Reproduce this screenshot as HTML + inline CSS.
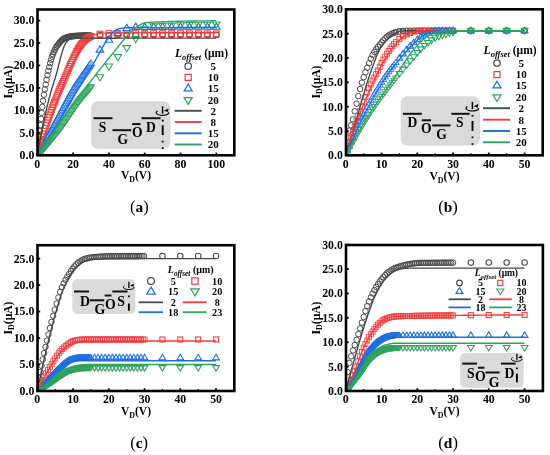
<!DOCTYPE html>
<html lang="en">
<head>
<meta charset="utf-8">
<title>Figure</title>
<style>
html,body{margin:0;padding:0;background:#fff;}
body{width:550px;height:455px;overflow:hidden;}
svg{display:block;font-family:"Liberation Serif", "DejaVu Serif", serif;}
svg text{fill:#000;}
</style>
</head>
<body>
<svg width="550" height="455" viewBox="0 0 550 455">
<rect width="550" height="455" fill="#fff"/>
<text transform="translate(11.6 82) rotate(-90)" font-size="11.6" text-anchor="middle" font-weight="bold">I<tspan font-size="7.89" dy="2.2">D</tspan><tspan dy="-2.2">(μA)</tspan></text>
<text x="136" y="179.3" font-size="11.6" text-anchor="middle" font-weight="bold">V<tspan font-size="7.89" dy="2.2">D</tspan><tspan dy="-2.2">(V)</tspan></text>
<clipPath id="clip_pa"><rect x="37.5" y="9.5" width="196.8" height="145.8"/></clipPath>
<g clip-path="url(#clip_pa)">
<g fill="none" stroke="#4a4a4a" stroke-width="1">
<circle cx="37.3" cy="155.2" r="2.76"/>
<circle cx="37.91" cy="149.15" r="2.76"/>
<circle cx="38.52" cy="143.18" r="2.76"/>
<circle cx="39.14" cy="137.1" r="2.76"/>
<circle cx="39.77" cy="131.11" r="2.76"/>
<circle cx="40.41" cy="124.99" r="2.76"/>
<circle cx="41.04" cy="118.88" r="2.76"/>
<circle cx="41.67" cy="112.78" r="2.76"/>
<circle cx="42.31" cy="106.8" r="2.76"/>
<circle cx="43.05" cy="100.74" r="2.76"/>
<circle cx="43.92" cy="94.74" r="2.76"/>
<circle cx="44.82" cy="89.39" r="2.76"/>
<circle cx="45.71" cy="84.5" r="2.76"/>
<circle cx="46.61" cy="79.77" r="2.76"/>
<circle cx="47.5" cy="75.18" r="2.76"/>
<circle cx="48.4" cy="70.87" r="2.76"/>
<circle cx="49.29" cy="66.95" r="2.76"/>
<circle cx="50.19" cy="63.22" r="2.76"/>
<circle cx="51.08" cy="59.72" r="2.76"/>
<circle cx="51.98" cy="56.67" r="2.76"/>
<circle cx="52.87" cy="54.23" r="2.76"/>
<circle cx="53.77" cy="52.1" r="2.76"/>
<circle cx="54.66" cy="50.18" r="2.76"/>
<circle cx="55.56" cy="48.45" r="2.76"/>
<circle cx="56.45" cy="46.91" r="2.76"/>
<circle cx="57.35" cy="45.55" r="2.76"/>
<circle cx="58.24" cy="44.36" r="2.76"/>
<circle cx="59.14" cy="43.22" r="2.76"/>
<circle cx="60.03" cy="42.13" r="2.76"/>
<circle cx="60.93" cy="41.12" r="2.76"/>
<circle cx="61.82" cy="40.2" r="2.76"/>
<circle cx="62.72" cy="39.4" r="2.76"/>
<circle cx="63.61" cy="38.74" r="2.76"/>
<circle cx="64.51" cy="38.24" r="2.76"/>
<circle cx="65.4" cy="37.89" r="2.76"/>
<circle cx="66.3" cy="37.58" r="2.76"/>
<circle cx="67.19" cy="37.29" r="2.76"/>
<circle cx="68.09" cy="37.04" r="2.76"/>
<circle cx="68.98" cy="36.81" r="2.76"/>
<circle cx="69.88" cy="36.6" r="2.76"/>
<circle cx="70.77" cy="36.43" r="2.76"/>
<circle cx="71.67" cy="36.28" r="2.76"/>
<circle cx="72.56" cy="36.17" r="2.76"/>
<circle cx="73.46" cy="36.08" r="2.76"/>
<circle cx="74.35" cy="36.02" r="2.76"/>
<circle cx="75.25" cy="35.96" r="2.76"/>
<circle cx="76.14" cy="35.9" r="2.76"/>
<circle cx="77.04" cy="35.85" r="2.76"/>
<circle cx="77.93" cy="35.8" r="2.76"/>
<circle cx="78.83" cy="35.75" r="2.76"/>
<circle cx="79.72" cy="35.71" r="2.76"/>
<circle cx="80.62" cy="35.67" r="2.76"/>
<circle cx="81.51" cy="35.63" r="2.76"/>
<circle cx="82.41" cy="35.59" r="2.76"/>
<circle cx="83.3" cy="35.56" r="2.76"/>
<circle cx="84.2" cy="35.53" r="2.76"/>
<circle cx="85.09" cy="35.5" r="2.76"/>
<circle cx="85.99" cy="35.48" r="2.76"/>
<circle cx="86.88" cy="35.46" r="2.76"/>
<circle cx="87.78" cy="35.44" r="2.76"/>
<circle cx="88.67" cy="35.43" r="2.76"/>
<circle cx="89.57" cy="35.41" r="2.76"/>
<circle cx="90.46" cy="35.4" r="2.76"/>
</g>
<g fill="none" stroke="#4a4a4a" stroke-width="1.1">
<circle cx="99.95" cy="35.33" r="2.76"/>
<circle cx="108.9" cy="35.26" r="2.76"/>
<circle cx="117.85" cy="35.21" r="2.76"/>
<circle cx="126.8" cy="35.16" r="2.76"/>
<circle cx="135.75" cy="35.11" r="2.76"/>
<circle cx="144.7" cy="35.08" r="2.76"/>
<circle cx="153.65" cy="35.04" r="2.76"/>
<circle cx="162.6" cy="35.02" r="2.76"/>
<circle cx="171.55" cy="34.99" r="2.76"/>
<circle cx="180.5" cy="34.98" r="2.76"/>
<circle cx="189.45" cy="34.96" r="2.76"/>
<circle cx="198.4" cy="34.96" r="2.76"/>
<circle cx="207.35" cy="34.95" r="2.76"/>
<circle cx="216.3" cy="34.95" r="2.76"/>
</g>
<g fill="none" stroke="#ef3d3d" stroke-width="0.85">
<rect x="34.44" y="152.34" width="5.71" height="5.71"/>
<rect x="35.34" y="149.17" width="5.71" height="5.71"/>
<rect x="36.23" y="146.03" width="5.71" height="5.71"/>
<rect x="37.13" y="142.95" width="5.71" height="5.71"/>
<rect x="38.02" y="139.91" width="5.71" height="5.71"/>
<rect x="38.92" y="136.92" width="5.71" height="5.71"/>
<rect x="39.81" y="133.97" width="5.71" height="5.71"/>
<rect x="40.71" y="131.07" width="5.71" height="5.71"/>
<rect x="41.6" y="128.21" width="5.71" height="5.71"/>
<rect x="42.5" y="125.39" width="5.71" height="5.71"/>
<rect x="43.39" y="122.62" width="5.71" height="5.71"/>
<rect x="44.29" y="119.89" width="5.71" height="5.71"/>
<rect x="45.18" y="117.21" width="5.71" height="5.71"/>
<rect x="46.08" y="114.57" width="5.71" height="5.71"/>
<rect x="46.97" y="111.96" width="5.71" height="5.71"/>
<rect x="47.87" y="109.4" width="5.71" height="5.71"/>
<rect x="48.76" y="106.88" width="5.71" height="5.71"/>
<rect x="49.66" y="104.41" width="5.71" height="5.71"/>
<rect x="50.55" y="101.97" width="5.71" height="5.71"/>
<rect x="51.45" y="99.57" width="5.71" height="5.71"/>
<rect x="52.34" y="97.21" width="5.71" height="5.71"/>
<rect x="53.24" y="94.89" width="5.71" height="5.71"/>
<rect x="54.13" y="92.66" width="5.71" height="5.71"/>
<rect x="55.03" y="90.51" width="5.71" height="5.71"/>
<rect x="55.92" y="88.42" width="5.71" height="5.71"/>
<rect x="56.82" y="86.39" width="5.71" height="5.71"/>
<rect x="57.71" y="84.38" width="5.71" height="5.71"/>
<rect x="58.61" y="82.4" width="5.71" height="5.71"/>
<rect x="59.5" y="80.42" width="5.71" height="5.71"/>
<rect x="60.4" y="78.43" width="5.71" height="5.71"/>
<rect x="61.29" y="76.4" width="5.71" height="5.71"/>
<rect x="62.19" y="74.33" width="5.71" height="5.71"/>
<rect x="63.08" y="72.22" width="5.71" height="5.71"/>
<rect x="63.98" y="70.07" width="5.71" height="5.71"/>
<rect x="64.87" y="67.92" width="5.71" height="5.71"/>
<rect x="65.77" y="65.78" width="5.71" height="5.71"/>
<rect x="66.66" y="63.66" width="5.71" height="5.71"/>
<rect x="67.56" y="61.59" width="5.71" height="5.71"/>
<rect x="68.45" y="59.59" width="5.71" height="5.71"/>
<rect x="69.35" y="57.67" width="5.71" height="5.71"/>
<rect x="70.24" y="55.79" width="5.71" height="5.71"/>
<rect x="71.14" y="53.92" width="5.71" height="5.71"/>
<rect x="72.03" y="52.07" width="5.71" height="5.71"/>
<rect x="72.93" y="50.26" width="5.71" height="5.71"/>
<rect x="73.82" y="48.53" width="5.71" height="5.71"/>
<rect x="74.72" y="46.9" width="5.71" height="5.71"/>
<rect x="75.61" y="45.38" width="5.71" height="5.71"/>
<rect x="76.51" y="44.01" width="5.71" height="5.71"/>
<rect x="77.4" y="42.77" width="5.71" height="5.71"/>
<rect x="78.3" y="41.58" width="5.71" height="5.71"/>
<rect x="79.19" y="40.45" width="5.71" height="5.71"/>
<rect x="80.09" y="39.38" width="5.71" height="5.71"/>
<rect x="80.98" y="38.4" width="5.71" height="5.71"/>
<rect x="81.88" y="37.5" width="5.71" height="5.71"/>
<rect x="82.77" y="36.7" width="5.71" height="5.71"/>
<rect x="83.67" y="36" width="5.71" height="5.71"/>
<rect x="84.56" y="35.36" width="5.71" height="5.71"/>
<rect x="85.46" y="34.76" width="5.71" height="5.71"/>
<rect x="86.35" y="34.22" width="5.71" height="5.71"/>
<rect x="87.25" y="33.74" width="5.71" height="5.71"/>
<rect x="88.14" y="33.33" width="5.71" height="5.71"/>
</g>
<g fill="none" stroke="#ef3d3d" stroke-width="1.1">
<rect x="97.09" y="31.19" width="5.71" height="5.71"/>
<rect x="106.04" y="30.75" width="5.71" height="5.71"/>
<rect x="114.99" y="30.75" width="5.71" height="5.71"/>
<rect x="123.94" y="30.75" width="5.71" height="5.71"/>
<rect x="132.89" y="30.75" width="5.71" height="5.71"/>
<rect x="141.84" y="30.76" width="5.71" height="5.71"/>
<rect x="150.79" y="30.76" width="5.71" height="5.71"/>
<rect x="159.74" y="30.78" width="5.71" height="5.71"/>
<rect x="168.69" y="30.79" width="5.71" height="5.71"/>
<rect x="177.64" y="30.81" width="5.71" height="5.71"/>
<rect x="186.59" y="30.84" width="5.71" height="5.71"/>
<rect x="195.54" y="30.88" width="5.71" height="5.71"/>
<rect x="204.49" y="30.92" width="5.71" height="5.71"/>
<rect x="213.44" y="30.97" width="5.71" height="5.71"/>
</g>
<g fill="none" stroke="#1f6fe0" stroke-width="0.85">
<path d="M37.3 151.26L41.16 157.61L33.44 157.61Z"/>
<path d="M38.2 149.75L42.06 156.09L34.33 156.09Z"/>
<path d="M39.09 148.22L42.95 154.57L35.23 154.57Z"/>
<path d="M39.98 146.69L43.85 153.04L36.12 153.04Z"/>
<path d="M40.88 145.15L44.74 151.5L37.02 151.5Z"/>
<path d="M41.77 143.6L45.64 149.95L37.91 149.95Z"/>
<path d="M42.67 142.05L46.53 148.4L38.81 148.4Z"/>
<path d="M43.56 140.49L47.43 146.84L39.7 146.84Z"/>
<path d="M44.46 138.92L48.32 145.27L40.6 145.27Z"/>
<path d="M45.35 137.35L49.22 143.7L41.49 143.7Z"/>
<path d="M46.25 135.77L50.11 142.12L42.39 142.12Z"/>
<path d="M47.14 134.18L51.01 140.53L43.28 140.53Z"/>
<path d="M48.04 132.59L51.9 138.93L44.18 138.93Z"/>
<path d="M48.93 130.98L52.8 137.33L45.07 137.33Z"/>
<path d="M49.83 129.38L53.69 135.72L45.97 135.72Z"/>
<path d="M50.72 127.76L54.59 134.11L46.86 134.11Z"/>
<path d="M51.62 126.14L55.48 132.49L47.76 132.49Z"/>
<path d="M52.52 124.5L56.38 130.85L48.65 130.85Z"/>
<path d="M53.41 122.85L57.27 129.2L49.55 129.2Z"/>
<path d="M54.3 121.19L58.17 127.54L50.44 127.54Z"/>
<path d="M55.2 119.51L59.06 125.86L51.34 125.86Z"/>
<path d="M56.09 117.83L59.96 124.18L52.23 124.18Z"/>
<path d="M56.99 116.13L60.85 122.48L53.13 122.48Z"/>
<path d="M57.88 114.43L61.75 120.78L54.02 120.78Z"/>
<path d="M58.78 112.73L62.64 119.07L54.92 119.07Z"/>
<path d="M59.67 111.02L63.54 117.36L55.81 117.36Z"/>
<path d="M60.57 109.3L64.43 115.65L56.71 115.65Z"/>
<path d="M61.46 107.59L65.33 113.94L57.6 113.94Z"/>
<path d="M62.36 105.88L66.22 112.23L58.5 112.23Z"/>
<path d="M63.25 104.17L67.12 110.52L59.39 110.52Z"/>
<path d="M64.15 102.47L68.01 108.82L60.29 108.82Z"/>
<path d="M65.05 100.78L68.91 107.12L61.18 107.12Z"/>
<path d="M65.94 99.09L69.8 105.43L62.08 105.43Z"/>
<path d="M66.83 97.41L70.7 103.76L62.97 103.76Z"/>
<path d="M67.73 95.74L71.59 102.09L63.87 102.09Z"/>
<path d="M68.62 94.06L72.49 100.41L64.76 100.41Z"/>
<path d="M69.52 92.37L73.38 98.71L65.66 98.71Z"/>
<path d="M70.41 90.68L74.28 97.03L66.55 97.03Z"/>
<path d="M71.31 89.03L75.17 95.38L67.45 95.38Z"/>
<path d="M72.2 87.43L76.07 93.78L68.34 93.78Z"/>
<path d="M73.1 85.9L76.96 92.25L69.24 92.25Z"/>
<path d="M74 84.43L77.86 90.78L70.13 90.78Z"/>
<path d="M74.89 83.01L78.75 89.36L71.03 89.36Z"/>
<path d="M75.78 81.62L79.65 87.97L71.92 87.97Z"/>
<path d="M76.68 80.26L80.54 86.6L72.82 86.6Z"/>
<path d="M77.57 78.92L81.44 85.26L73.71 85.26Z"/>
<path d="M78.47 77.59L82.33 83.94L74.61 83.94Z"/>
<path d="M79.36 76.28L83.23 82.62L75.5 82.62Z"/>
<path d="M80.26 74.96L84.12 81.31L76.4 81.31Z"/>
<path d="M81.16 73.64L85.02 79.99L77.29 79.99Z"/>
<path d="M82.05 72.32L85.91 78.67L78.19 78.67Z"/>
<path d="M82.94 71.03L86.81 77.37L79.08 77.37Z"/>
<path d="M83.84 69.74L87.7 76.09L79.98 76.09Z"/>
<path d="M84.73 68.46L88.6 74.81L80.87 74.81Z"/>
<path d="M85.63 67.19L89.49 73.54L81.77 73.54Z"/>
<path d="M86.53 65.92L90.39 72.27L82.66 72.27Z"/>
<path d="M87.42 64.64L91.28 70.99L83.56 70.99Z"/>
<path d="M88.31 63.35L92.18 69.7L84.45 69.7Z"/>
<path d="M89.21 62.05L93.07 68.4L85.35 68.4Z"/>
<path d="M90.1 60.72L93.97 67.07L86.24 67.07Z"/>
<path d="M91 59.36L94.86 65.71L87.14 65.71Z"/>
</g>
<g fill="none" stroke="#1f6fe0" stroke-width="1.1">
<path d="M99.95 45.82L103.81 52.17L96.09 52.17Z"/>
<path d="M108.9 35.95L112.76 42.3L105.04 42.3Z"/>
<path d="M117.85 29.22L121.71 35.57L113.99 35.57Z"/>
<path d="M126.8 24.28L130.66 30.63L122.94 30.63Z"/>
<path d="M135.75 23.16L139.61 29.51L131.89 29.51Z"/>
<path d="M144.7 23.1L148.56 29.45L140.84 29.45Z"/>
<path d="M153.65 23.05L157.51 29.4L149.79 29.4Z"/>
<path d="M162.6 23.01L166.46 29.36L158.74 29.36Z"/>
<path d="M171.55 22.99L175.41 29.33L167.69 29.33Z"/>
<path d="M180.5 22.96L184.36 29.31L176.64 29.31Z"/>
<path d="M189.45 22.95L193.31 29.3L185.59 29.3Z"/>
<path d="M198.4 22.94L202.26 29.29L194.54 29.29Z"/>
<path d="M207.35 22.94L211.21 29.29L203.49 29.29Z"/>
<path d="M216.3 22.94L220.16 29.28L212.44 29.28Z"/>
</g>
<g fill="none" stroke="#2fa35f" stroke-width="0.85">
<path d="M37.3 159.02L41.05 152.86L33.55 152.86Z"/>
<path d="M38.2 158.11L41.95 151.94L34.44 151.94Z"/>
<path d="M39.09 157.18L42.84 151.01L35.34 151.01Z"/>
<path d="M39.98 156.24L43.74 150.08L36.23 150.08Z"/>
<path d="M40.88 155.29L44.63 149.12L37.13 149.12Z"/>
<path d="M41.77 154.33L45.53 148.16L38.02 148.16Z"/>
<path d="M42.67 153.35L46.42 147.19L38.92 147.19Z"/>
<path d="M43.56 152.37L47.32 146.21L39.81 146.21Z"/>
<path d="M44.46 151.38L48.21 145.21L40.71 145.21Z"/>
<path d="M45.35 150.37L49.11 144.21L41.6 144.21Z"/>
<path d="M46.25 149.36L50 143.19L42.5 143.19Z"/>
<path d="M47.14 148.33L50.9 142.17L43.39 142.17Z"/>
<path d="M48.04 147.3L51.79 141.13L44.29 141.13Z"/>
<path d="M48.93 146.25L52.69 140.09L45.18 140.09Z"/>
<path d="M49.83 145.19L53.58 139.03L46.08 139.03Z"/>
<path d="M50.72 144.13L54.48 137.97L46.97 137.97Z"/>
<path d="M51.62 143.06L55.37 136.89L47.87 136.89Z"/>
<path d="M52.52 141.97L56.27 135.81L48.76 135.81Z"/>
<path d="M53.41 140.88L57.16 134.72L49.66 134.72Z"/>
<path d="M54.3 139.78L58.06 133.62L50.55 133.62Z"/>
<path d="M55.2 138.67L58.95 132.51L51.45 132.51Z"/>
<path d="M56.09 137.55L59.85 131.39L52.34 131.39Z"/>
<path d="M56.99 136.43L60.74 130.26L53.24 130.26Z"/>
<path d="M57.88 135.29L61.64 129.13L54.13 129.13Z"/>
<path d="M58.78 134.15L62.53 127.98L55.03 127.98Z"/>
<path d="M59.67 133L63.43 126.83L55.92 126.83Z"/>
<path d="M60.57 131.82L64.32 125.66L56.82 125.66Z"/>
<path d="M61.46 130.62L65.22 124.45L57.71 124.45Z"/>
<path d="M62.36 129.38L66.11 123.22L58.61 123.22Z"/>
<path d="M63.25 128.12L67.01 121.95L59.5 121.95Z"/>
<path d="M64.15 126.83L67.9 120.67L60.4 120.67Z"/>
<path d="M65.05 125.52L68.8 119.36L61.29 119.36Z"/>
<path d="M65.94 124.2L69.69 118.03L62.19 118.03Z"/>
<path d="M66.83 122.86L70.59 116.7L63.08 116.7Z"/>
<path d="M67.73 121.51L71.48 115.35L63.98 115.35Z"/>
<path d="M68.62 120.15L72.38 113.99L64.87 113.99Z"/>
<path d="M69.52 118.79L73.27 112.63L65.77 112.63Z"/>
<path d="M70.41 117.43L74.17 111.27L66.66 111.27Z"/>
<path d="M71.31 116.08L75.06 109.91L67.56 109.91Z"/>
<path d="M72.2 114.72L75.96 108.56L68.45 108.56Z"/>
<path d="M73.1 113.38L76.85 107.22L69.35 107.22Z"/>
<path d="M74 112.05L77.75 105.89L70.24 105.89Z"/>
<path d="M74.89 110.74L78.64 104.57L71.14 104.57Z"/>
<path d="M75.78 109.44L79.54 103.28L72.03 103.28Z"/>
<path d="M76.68 108.17L80.43 102.01L72.93 102.01Z"/>
<path d="M77.57 106.93L81.33 100.76L73.82 100.76Z"/>
<path d="M78.47 105.71L82.22 99.54L74.72 99.54Z"/>
<path d="M79.36 104.52L83.12 98.36L75.61 98.36Z"/>
<path d="M80.26 103.38L84.01 97.21L76.51 97.21Z"/>
<path d="M81.16 102.27L84.91 96.11L77.4 96.11Z"/>
<path d="M82.05 101.2L85.8 95.03L78.3 95.03Z"/>
<path d="M82.94 100.15L86.7 93.99L79.19 93.99Z"/>
<path d="M83.84 99.12L87.59 92.96L80.09 92.96Z"/>
<path d="M84.73 98.1L88.49 91.93L80.98 91.93Z"/>
<path d="M85.63 97.08L89.38 90.92L81.88 90.92Z"/>
<path d="M86.53 96.05L90.28 89.89L82.77 89.89Z"/>
<path d="M87.42 95.01L91.17 88.85L83.67 88.85Z"/>
<path d="M88.31 93.95L92.07 87.78L84.56 87.78Z"/>
<path d="M89.21 92.84L92.96 86.68L85.46 86.68Z"/>
<path d="M90.1 91.7L93.86 85.53L86.35 85.53Z"/>
<path d="M91 90.59L94.75 84.43L87.25 84.43Z"/>
</g>
<g fill="none" stroke="#2fa35f" stroke-width="1.1">
<path d="M99.95 80.95L103.7 74.78L96.2 74.78Z"/>
<path d="M108.9 70.18L112.65 64.02L105.15 64.02Z"/>
<path d="M117.85 60.76L121.6 54.59L114.1 54.59Z"/>
<path d="M126.8 51.78L130.55 45.62L123.05 45.62Z"/>
<path d="M135.75 42.81L139.5 36.64L132 36.64Z"/>
<path d="M144.7 32.94L148.45 26.77L140.95 26.77Z"/>
<path d="M153.65 30.02L157.4 23.86L149.9 23.86Z"/>
<path d="M162.6 29.57L166.35 23.41L158.85 23.41Z"/>
<path d="M171.55 29.25L175.3 23.09L167.8 23.09Z"/>
<path d="M180.5 28.95L184.25 22.78L176.75 22.78Z"/>
<path d="M189.45 28.68L193.2 22.52L185.7 22.52Z"/>
<path d="M198.4 28.46L202.15 22.29L194.65 22.29Z"/>
<path d="M207.35 28.3L211.1 22.14L203.6 22.14Z"/>
<path d="M216.3 28.23L220.05 22.06L212.55 22.06Z"/>
</g>
<polyline fill="none" stroke="#4a4a4a" stroke-width="1.4" stroke-linejoin="round" points="37.3,155.2 38.2,150.19 39.09,145.29 39.98,140.5 40.88,135.83 41.77,131.28 42.67,126.84 43.56,122.51 44.46,118.31 45.35,114.23 46.25,110.26 47.14,106.42 48.04,102.71 48.93,99.11 49.83,95.71 50.72,92.51 51.62,89.48 52.52,86.56 53.41,83.69 54.3,80.83 55.2,77.92 56.09,74.91 56.99,71.74 57.88,68.31 58.78,64.67 59.67,61.02 60.57,57.59 61.46,54.57 62.36,51.66 63.25,48.85 64.15,46.3 65.05,44.22 65.94,42.79 66.83,41.67 67.73,40.71 68.62,39.93 69.52,39.4 70.41,39.12 71.31,38.92 72.2,38.75 73.1,38.6 74,38.48 74.89,38.39 75.78,38.34 76.68,38.31 77.57,38.31 78.47,38.31 79.36,38.3 80.26,38.3 81.16,38.29 82.05,38.29 82.94,38.29 83.84,38.28 84.73,38.28 85.63,38.28 86.53,38.27 87.42,38.27 88.31,38.27 89.21,38.26 90.1,38.26 91,38.26 91.89,38.25 92.79,38.25 93.69,38.25 94.58,38.24 95.47,38.24 96.37,38.24 97.27,38.23 98.16,38.23 99.06,38.23 99.95,38.22 100.84,38.22 101.74,38.22 102.64,38.22 103.53,38.21 104.42,38.21 105.32,38.21 106.22,38.2 107.11,38.2 108,38.2 108.9,38.2 109.8,38.19 110.69,38.19 111.58,38.19 112.48,38.19 113.38,38.19 114.27,38.18 115.16,38.18 116.06,38.18 116.95,38.18 117.85,38.17 118.75,38.17 119.64,38.17 120.53,38.17 121.43,38.17 122.33,38.16 123.22,38.16 124.11,38.16 125.01,38.16 125.91,38.16 126.8,38.15 127.69,38.15 128.59,38.15 129.49,38.15 130.38,38.15 131.28,38.15 132.17,38.14 133.06,38.14 133.96,38.14 134.86,38.14 135.75,38.14 136.64,38.14 137.54,38.14 138.44,38.13 139.33,38.13 140.22,38.13 141.12,38.13 142.01,38.13 142.91,38.13 143.81,38.13 144.7,38.13 145.59,38.12 146.49,38.12 147.38,38.12 148.28,38.12 149.18,38.12 150.07,38.12 150.97,38.12 151.86,38.12 152.75,38.12 153.65,38.11 154.55,38.11 155.44,38.11 156.33,38.11 157.23,38.11 158.12,38.11 159.02,38.11 159.92,38.11 160.81,38.11 161.7,38.11 162.6,38.11 163.5,38.11 164.39,38.1 165.28,38.1 166.18,38.1 167.07,38.1 167.97,38.1 168.87,38.1 169.76,38.1 170.65,38.1 171.55,38.1 172.44,38.1 173.34,38.1 174.24,38.1 175.13,38.1 176.02,38.1 176.92,38.1 177.81,38.1 178.71,38.1 179.61,38.1 180.5,38.1 181.39,38.09 182.29,38.09 183.19,38.09 184.08,38.09 184.98,38.09 185.87,38.09 186.76,38.09 187.66,38.09 188.56,38.09 189.45,38.09 190.35,38.09 191.24,38.09 192.13,38.09 193.03,38.09 193.93,38.09 194.82,38.09 195.71,38.09 196.61,38.09 197.5,38.09 198.4,38.09 199.3,38.09 200.19,38.09 201.08,38.09 201.98,38.09 202.88,38.09 203.77,38.09 204.67,38.09 205.56,38.09 206.45,38.09 207.35,38.09 208.25,38.09 209.14,38.09 210.04,38.09 210.93,38.09 211.82,38.09 212.72,38.09 213.62,38.09 214.51,38.09 215.4,38.09 216.3,38.09"/>
<polyline fill="none" stroke="#ef3d3d" stroke-width="1.4" stroke-linejoin="round" points="37.3,155.2 38.2,152.61 39.09,150.04 39.98,147.48 40.88,144.94 41.77,142.41 42.67,139.9 43.56,137.39 44.46,134.91 45.35,132.43 46.25,129.97 47.14,127.52 48.04,125.09 48.93,122.67 49.83,120.26 50.72,117.86 51.62,115.48 52.52,113.11 53.41,110.75 54.3,108.41 55.2,106.08 56.09,103.76 56.99,101.45 57.88,99.15 58.78,96.87 59.67,94.58 60.57,92.28 61.46,89.97 62.36,87.66 63.25,85.35 64.15,83.06 65.05,80.79 65.94,78.54 66.83,76.33 67.73,74.15 68.62,72.03 69.52,69.95 70.41,67.94 71.31,65.99 72.2,64.11 73.1,62.32 74,60.58 74.89,58.87 75.78,57.2 76.68,55.57 77.57,53.98 78.47,52.44 79.36,50.95 80.26,49.51 81.16,48.13 82.05,46.81 82.94,45.55 83.84,44.37 84.73,43.23 85.63,42.11 86.53,41.03 87.42,40.01 88.31,39.05 89.21,38.18 90.1,37.4 91,36.74 91.89,36.16 92.79,35.61 93.69,35.12 94.58,34.68 95.47,34.32 96.37,34.05 97.27,33.83 98.16,33.62 99.06,33.44 99.95,33.3 100.84,33.2 101.74,33.15 102.64,33.14 103.53,33.13 104.42,33.13 105.32,33.12 106.22,33.11 107.11,33.1 108,33.09 108.9,33.08 109.8,33.07 110.69,33.06 111.58,33.06 112.48,33.05 113.38,33.04 114.27,33.03 115.16,33.02 116.06,33.02 116.95,33.01 117.85,33 118.75,32.99 119.64,32.99 120.53,32.98 121.43,32.97 122.33,32.97 123.22,32.96 124.11,32.95 125.01,32.95 125.91,32.94 126.8,32.93 127.69,32.93 128.59,32.92 129.49,32.92 130.38,32.91 131.28,32.9 132.17,32.9 133.06,32.89 133.96,32.89 134.86,32.88 135.75,32.88 136.64,32.87 137.54,32.87 138.44,32.86 139.33,32.86 140.22,32.85 141.12,32.85 142.01,32.84 142.91,32.84 143.81,32.84 144.7,32.83 145.59,32.83 146.49,32.82 147.38,32.82 148.28,32.81 149.18,32.81 150.07,32.81 150.97,32.8 151.86,32.8 152.75,32.8 153.65,32.79 154.55,32.79 155.44,32.79 156.33,32.78 157.23,32.78 158.12,32.78 159.02,32.77 159.92,32.77 160.81,32.77 161.7,32.77 162.6,32.76 163.5,32.76 164.39,32.76 165.28,32.76 166.18,32.75 167.07,32.75 167.97,32.75 168.87,32.75 169.76,32.75 170.65,32.74 171.55,32.74 172.44,32.74 173.34,32.74 174.24,32.74 175.13,32.73 176.02,32.73 176.92,32.73 177.81,32.73 178.71,32.73 179.61,32.73 180.5,32.73 181.39,32.72 182.29,32.72 183.19,32.72 184.08,32.72 184.98,32.72 185.87,32.72 186.76,32.72 187.66,32.72 188.56,32.72 189.45,32.72 190.35,32.71 191.24,32.71 192.13,32.71 193.03,32.71 193.93,32.71 194.82,32.71 195.71,32.71 196.61,32.71 197.5,32.71 198.4,32.71 199.3,32.71 200.19,32.71 201.08,32.71 201.98,32.71 202.88,32.71 203.77,32.71 204.67,32.71 205.56,32.71 206.45,32.71 207.35,32.71 208.25,32.71 209.14,32.71 210.04,32.71 210.93,32.71 211.82,32.71 212.72,32.71 213.62,32.7 214.51,32.7 215.4,32.7 216.3,32.7"/>
<polyline fill="none" stroke="#1f6fe0" stroke-width="1.4" stroke-linejoin="round" points="37.3,155.2 38.2,153.82 39.09,152.43 39.98,151.04 40.88,149.65 41.77,148.25 42.67,146.85 43.56,145.45 44.46,144.04 45.35,142.63 46.25,141.22 47.14,139.81 48.04,138.39 48.93,136.97 49.83,135.55 50.72,134.12 51.62,132.69 52.52,131.26 53.41,129.83 54.3,128.39 55.2,126.95 56.09,125.51 56.99,124.07 57.88,122.62 58.78,121.17 59.67,119.72 60.57,118.27 61.46,116.81 62.36,115.35 63.25,113.89 64.15,112.43 65.05,110.96 65.94,109.5 66.83,108.03 67.73,106.55 68.62,105.08 69.52,103.6 70.41,102.13 71.31,100.65 72.2,99.16 73.1,97.68 74,96.2 74.89,94.71 75.78,93.22 76.68,91.73 77.57,90.23 78.47,88.74 79.36,87.24 80.26,85.75 81.16,84.25 82.05,82.74 82.94,81.24 83.84,79.74 84.73,78.23 85.63,76.72 86.53,75.22 87.42,73.71 88.31,72.19 89.21,70.68 90.1,69.17 91,67.65 91.89,66.14 92.79,64.62 93.69,63.1 94.58,61.58 95.47,60.05 96.37,58.48 97.27,56.88 98.16,55.26 99.06,53.63 99.95,52 100.84,50.38 101.74,48.79 102.64,47.22 103.53,45.71 104.42,44.24 105.32,42.85 106.22,41.48 107.11,40.07 108,38.64 108.9,37.22 109.8,35.86 110.69,34.58 111.58,33.41 112.48,32.39 113.38,31.54 114.27,30.91 115.16,30.41 116.06,29.95 116.95,29.54 117.85,29.17 118.75,28.85 119.64,28.58 120.53,28.37 121.43,28.22 122.33,28.1 123.22,28 124.11,27.91 125.01,27.84 125.91,27.79 126.8,27.77 127.69,27.76 128.59,27.76 129.49,27.75 130.38,27.75 131.28,27.74 132.17,27.73 133.06,27.73 133.96,27.72 134.86,27.72 135.75,27.71 136.64,27.71 137.54,27.7 138.44,27.7 139.33,27.69 140.22,27.69 141.12,27.69 142.01,27.68 142.91,27.68 143.81,27.67 144.7,27.67 145.59,27.66 146.49,27.66 147.38,27.66 148.28,27.65 149.18,27.65 150.07,27.65 150.97,27.64 151.86,27.64 152.75,27.64 153.65,27.63 154.55,27.63 155.44,27.63 156.33,27.62 157.23,27.62 158.12,27.62 159.02,27.61 159.92,27.61 160.81,27.61 161.7,27.61 162.6,27.6 163.5,27.6 164.39,27.6 165.28,27.6 166.18,27.59 167.07,27.59 167.97,27.59 168.87,27.59 169.76,27.59 170.65,27.58 171.55,27.58 172.44,27.58 173.34,27.58 174.24,27.58 175.13,27.57 176.02,27.57 176.92,27.57 177.81,27.57 178.71,27.57 179.61,27.57 180.5,27.57 181.39,27.56 182.29,27.56 183.19,27.56 184.08,27.56 184.98,27.56 185.87,27.56 186.76,27.56 187.66,27.56 188.56,27.56 189.45,27.56 190.35,27.55 191.24,27.55 192.13,27.55 193.03,27.55 193.93,27.55 194.82,27.55 195.71,27.55 196.61,27.55 197.5,27.55 198.4,27.55 199.3,27.55 200.19,27.55 201.08,27.55 201.98,27.55 202.88,27.55 203.77,27.55 204.67,27.55 205.56,27.55 206.45,27.55 207.35,27.55 208.25,27.55 209.14,27.55 210.04,27.55 210.93,27.55 211.82,27.55 212.72,27.54 213.62,27.54 214.51,27.54 215.4,27.54 216.3,27.54"/>
<polyline fill="none" stroke="#2fa35f" stroke-width="1.4" stroke-linejoin="round" points="37.3,155.2 38.2,153.88 39.09,152.57 39.98,151.26 40.88,149.95 41.77,148.65 42.67,147.34 43.56,146.05 44.46,144.75 45.35,143.46 46.25,142.17 47.14,140.88 48.04,139.6 48.93,138.32 49.83,137.04 50.72,135.76 51.62,134.49 52.52,133.22 53.41,131.96 54.3,130.69 55.2,129.43 56.09,128.17 56.99,126.92 57.88,125.66 58.78,124.41 59.67,123.16 60.57,121.92 61.46,120.68 62.36,119.44 63.25,118.2 64.15,116.96 65.05,115.73 65.94,114.5 66.83,113.27 67.73,112.04 68.62,110.82 69.52,109.6 70.41,108.38 71.31,107.16 72.2,105.95 73.1,104.74 74,103.53 74.89,102.32 75.78,101.11 76.68,99.91 77.57,98.71 78.47,97.51 79.36,96.31 80.26,95.12 81.16,93.92 82.05,92.73 82.94,91.54 83.84,90.36 84.73,89.17 85.63,87.99 86.53,86.8 87.42,85.62 88.31,84.45 89.21,83.27 90.1,82.1 91,80.92 91.89,79.75 92.79,78.58 93.69,77.41 94.58,76.25 95.47,75.08 96.37,73.92 97.27,72.77 98.16,71.62 99.06,70.48 99.95,69.34 100.84,68.21 101.74,67.08 102.64,65.95 103.53,64.83 104.42,63.72 105.32,62.6 106.22,61.49 107.11,60.39 108,59.28 108.9,58.18 109.8,57.08 110.69,55.98 111.58,54.89 112.48,53.79 113.38,52.69 114.27,51.58 115.16,50.46 116.06,49.32 116.95,48.19 117.85,47.05 118.75,45.91 119.64,44.78 120.53,43.65 121.43,42.54 122.33,41.43 123.22,40.35 124.11,39.28 125.01,38.23 125.91,37.2 126.8,36.2 127.69,35.23 128.59,34.3 129.49,33.4 130.38,32.53 131.28,31.69 132.17,30.86 133.06,30.04 133.96,29.25 134.86,28.49 135.75,27.77 136.64,27.08 137.54,26.44 138.44,25.85 139.33,25.31 140.22,24.79 141.12,24.28 142.01,23.82 142.91,23.43 143.81,23.14 144.7,22.95 145.59,22.79 146.49,22.65 147.38,22.53 148.28,22.43 149.18,22.35 150.07,22.3 150.97,22.25 151.86,22.21 152.75,22.17 153.65,22.13 154.55,22.09 155.44,22.05 156.33,22.01 157.23,21.98 158.12,21.94 159.02,21.9 159.92,21.87 160.81,21.83 161.7,21.8 162.6,21.77 163.5,21.73 164.39,21.7 165.28,21.67 166.18,21.64 167.07,21.61 167.97,21.58 168.87,21.55 169.76,21.52 170.65,21.49 171.55,21.46 172.44,21.44 173.34,21.41 174.24,21.39 175.13,21.36 176.02,21.34 176.92,21.31 177.81,21.29 178.71,21.27 179.61,21.24 180.5,21.22 181.39,21.2 182.29,21.18 183.19,21.16 184.08,21.14 184.98,21.12 185.87,21.11 186.76,21.09 187.66,21.07 188.56,21.06 189.45,21.04 190.35,21.02 191.24,21.01 192.13,21 193.03,20.98 193.93,20.97 194.82,20.96 195.71,20.95 196.61,20.93 197.5,20.92 198.4,20.91 199.3,20.9 200.19,20.89 201.08,20.89 201.98,20.88 202.88,20.87 203.77,20.86 204.67,20.86 205.56,20.85 206.45,20.84 207.35,20.84 208.25,20.83 209.14,20.83 210.04,20.83 210.93,20.82 211.82,20.82 212.72,20.82 213.62,20.82 214.51,20.82 215.4,20.81 216.3,20.81"/>
</g>
<line x1="37.3" y1="155.3" x2="37.3" y2="152.6" stroke="#000" stroke-width="1.8"/>
<line x1="73.1" y1="155.3" x2="73.1" y2="152.6" stroke="#000" stroke-width="1.8"/>
<line x1="108.9" y1="155.3" x2="108.9" y2="152.6" stroke="#000" stroke-width="1.8"/>
<line x1="144.7" y1="155.3" x2="144.7" y2="152.6" stroke="#000" stroke-width="1.8"/>
<line x1="180.5" y1="155.3" x2="180.5" y2="152.6" stroke="#000" stroke-width="1.8"/>
<line x1="216.3" y1="155.3" x2="216.3" y2="152.6" stroke="#000" stroke-width="1.8"/>
<line x1="37.5" y1="155.2" x2="40.2" y2="155.2" stroke="#000" stroke-width="1.8"/>
<line x1="37.5" y1="132.76" x2="40.2" y2="132.76" stroke="#000" stroke-width="1.8"/>
<line x1="37.5" y1="110.33" x2="40.2" y2="110.33" stroke="#000" stroke-width="1.8"/>
<line x1="37.5" y1="87.89" x2="40.2" y2="87.89" stroke="#000" stroke-width="1.8"/>
<line x1="37.5" y1="65.46" x2="40.2" y2="65.46" stroke="#000" stroke-width="1.8"/>
<line x1="37.5" y1="43.02" x2="40.2" y2="43.02" stroke="#000" stroke-width="1.8"/>
<line x1="37.5" y1="20.59" x2="40.2" y2="20.59" stroke="#000" stroke-width="1.8"/>
<rect x="37.5" y="9.5" width="196.8" height="145.8" fill="none" stroke="#000" stroke-width="2.6"/>
<text x="37.3" y="167.6" font-size="11.8" text-anchor="middle" font-weight="bold" font-style="normal">0</text>
<text x="73.1" y="167.6" font-size="11.8" text-anchor="middle" font-weight="bold" font-style="normal">20</text>
<text x="108.9" y="167.6" font-size="11.8" text-anchor="middle" font-weight="bold" font-style="normal">40</text>
<text x="144.7" y="167.6" font-size="11.8" text-anchor="middle" font-weight="bold" font-style="normal">60</text>
<text x="180.5" y="167.6" font-size="11.8" text-anchor="middle" font-weight="bold" font-style="normal">80</text>
<text x="216.3" y="167.6" font-size="11.8" text-anchor="middle" font-weight="bold" font-style="normal">100</text>
<text x="34.3" y="159.1" font-size="11.8" text-anchor="end" font-weight="bold" font-style="normal">0.0</text>
<text x="34.3" y="136.66" font-size="11.8" text-anchor="end" font-weight="bold" font-style="normal">5.0</text>
<text x="34.3" y="114.23" font-size="11.8" text-anchor="end" font-weight="bold" font-style="normal">10.0</text>
<text x="34.3" y="91.79" font-size="11.8" text-anchor="end" font-weight="bold" font-style="normal">15.0</text>
<text x="34.3" y="69.36" font-size="11.8" text-anchor="end" font-weight="bold" font-style="normal">20.0</text>
<text x="34.3" y="46.92" font-size="11.8" text-anchor="end" font-weight="bold" font-style="normal">25.0</text>
<text x="34.3" y="24.49" font-size="11.8" text-anchor="end" font-weight="bold" font-style="normal">30.0</text>
<text x="175" y="57" font-size="11.6" text-anchor="start" font-weight="bold"><tspan font-style="italic">L</tspan><tspan font-style="italic" font-size="8.47" dy="2.6">offset</tspan><tspan dy="-2.6"> (μm)</tspan></text>
<g fill="none" stroke="#4a4a4a" stroke-width="1.25">
<circle cx="188.2" cy="66.2" r="3.24"/>
</g>
<g fill="none" stroke="#ef3d3d" stroke-width="1.25">
<rect x="185.18" y="74.38" width="6.05" height="6.05"/>
</g>
<g fill="none" stroke="#1f6fe0" stroke-width="1.25">
<path d="M188.2 84.29L192.23 90.92L184.17 90.92Z"/>
</g>
<g fill="none" stroke="#2fa35f" stroke-width="1.25">
<path d="M188.2 104.31L192.23 97.68L184.17 97.68Z"/>
</g>
<line x1="174.6" y1="110.8" x2="201.7" y2="110.8" stroke="#4a4a4a" stroke-width="1.9"/>
<line x1="174.6" y1="122" x2="201.7" y2="122" stroke="#ef3d3d" stroke-width="1.9"/>
<line x1="174.6" y1="133.3" x2="201.7" y2="133.3" stroke="#1f6fe0" stroke-width="1.9"/>
<line x1="174.6" y1="144.5" x2="201.7" y2="144.5" stroke="#2fa35f" stroke-width="1.9"/>
<text x="213.2" y="70" font-size="11" text-anchor="middle" font-weight="bold" font-style="normal">5</text>
<text x="213.2" y="81.2" font-size="11" text-anchor="middle" font-weight="bold" font-style="normal">10</text>
<text x="213.2" y="92.2" font-size="11" text-anchor="middle" font-weight="bold" font-style="normal">15</text>
<text x="213.2" y="104" font-size="11" text-anchor="middle" font-weight="bold" font-style="normal">20</text>
<text x="213.2" y="114.6" font-size="11" text-anchor="middle" font-weight="bold" font-style="normal">2</text>
<text x="213.2" y="125.8" font-size="11" text-anchor="middle" font-weight="bold" font-style="normal">8</text>
<text x="213.2" y="137.1" font-size="11" text-anchor="middle" font-weight="bold" font-style="normal">15</text>
<text x="213.2" y="148.3" font-size="11" text-anchor="middle" font-weight="bold" font-style="normal">20</text>
<rect x="91.2" y="101.2" width="79.2" height="47.8" rx="7" ry="7" fill="#dadada"/>
<line x1="93.5" y1="118.2" x2="112.5" y2="118.2" stroke="#111" stroke-width="2"/>
<text transform="translate(102.6 131.6) scale(1 1)" font-size="13.6" text-anchor="middle" font-weight="bold">S</text>
<line x1="112.5" y1="130.2" x2="131.2" y2="130.2" stroke="#111" stroke-width="2"/>
<text transform="translate(122.8 143.6) scale(1 1)" font-size="13.6" text-anchor="middle" font-weight="bold">G</text>
<line x1="132.1" y1="124.1" x2="140.6" y2="124.1" stroke="#111" stroke-width="2"/>
<text transform="translate(137.2 137) scale(1 1)" font-size="13.6" text-anchor="middle" font-weight="bold">O</text>
<line x1="141.5" y1="118.2" x2="160.6" y2="118.2" stroke="#111" stroke-width="2"/>
<text transform="translate(151 131.6) scale(1 1)" font-size="13.6" text-anchor="middle" font-weight="bold">D</text>
<line x1="162.7" y1="119.7" x2="162.7" y2="121.5" stroke="#000" stroke-width="1.9"/>
<line x1="162.7" y1="125.3" x2="162.7" y2="135.1" stroke="#000" stroke-width="1.9"/>
<line x1="162.7" y1="140.8" x2="162.7" y2="142.5" stroke="#000" stroke-width="1.9"/>
<line x1="162.7" y1="147.3" x2="162.7" y2="149" stroke="#000" stroke-width="1.9"/>
<line x1="162.6" y1="106.3" x2="162.6" y2="113.6" stroke="#000" stroke-width="1.5"/>
<path d="M157.57 110.96 A6.3 2.7 0 1 0 168.67 112.42" fill="none" stroke="#000" stroke-width="1.1"/>
<path d="M163.9 110.7 L168.4 108.5 L168.1 112.1 Z" fill="#000"/>
<text transform="translate(319.5 82) rotate(-90)" font-size="11.6" text-anchor="middle" font-weight="bold">I<tspan font-size="7.89" dy="2.2">D</tspan><tspan dy="-2.2">(μA)</tspan></text>
<text x="444.5" y="180.3" font-size="11.6" text-anchor="middle" font-weight="bold">V<tspan font-size="7.89" dy="2.2">D</tspan><tspan dy="-2.2">(V)</tspan></text>
<clipPath id="clip_pb"><rect x="346" y="9.3" width="196.7" height="146"/></clipPath>
<g clip-path="url(#clip_pb)">
<g fill="none" stroke="#4a4a4a" stroke-width="1">
<circle cx="345.8" cy="155.3" r="2.76"/>
<circle cx="347.59" cy="137.34" r="2.76"/>
<circle cx="349.38" cy="130.54" r="2.76"/>
<circle cx="351.16" cy="125.31" r="2.76"/>
<circle cx="352.95" cy="119.34" r="2.76"/>
<circle cx="354.74" cy="111.35" r="2.76"/>
<circle cx="356.53" cy="103.66" r="2.76"/>
<circle cx="358.31" cy="96.12" r="2.76"/>
<circle cx="360.1" cy="89.02" r="2.76"/>
<circle cx="361.89" cy="82.63" r="2.76"/>
<circle cx="363.68" cy="77.17" r="2.76"/>
<circle cx="365.46" cy="72.32" r="2.76"/>
<circle cx="367.25" cy="67.63" r="2.76"/>
<circle cx="369.04" cy="63.16" r="2.76"/>
<circle cx="370.82" cy="58.77" r="2.76"/>
<circle cx="372.61" cy="54.95" r="2.76"/>
<circle cx="374.4" cy="51.9" r="2.76"/>
<circle cx="376.19" cy="49.21" r="2.76"/>
<circle cx="377.98" cy="46.79" r="2.76"/>
<circle cx="379.76" cy="44.56" r="2.76"/>
<circle cx="381.55" cy="42.37" r="2.76"/>
<circle cx="383.34" cy="40.27" r="2.76"/>
<circle cx="385.12" cy="38.36" r="2.76"/>
<circle cx="386.91" cy="36.72" r="2.76"/>
<circle cx="388.7" cy="35.46" r="2.76"/>
<circle cx="390.49" cy="34.43" r="2.76"/>
<circle cx="392.28" cy="33.5" r="2.76"/>
<circle cx="394.06" cy="32.71" r="2.76"/>
<circle cx="395.85" cy="32.09" r="2.76"/>
</g>
<g fill="none" stroke="#4a4a4a" stroke-width="1.1">
<circle cx="399.43" cy="31.42" r="2.76"/>
<circle cx="403" cy="31.09" r="2.76"/>
<circle cx="406.58" cy="30.83" r="2.76"/>
<circle cx="410.15" cy="30.7" r="2.76"/>
<circle cx="413.73" cy="30.7" r="2.76"/>
<circle cx="417.3" cy="30.7" r="2.76"/>
<circle cx="420.88" cy="30.7" r="2.76"/>
<circle cx="424.45" cy="30.7" r="2.76"/>
<circle cx="428.03" cy="30.7" r="2.76"/>
<circle cx="431.6" cy="30.7" r="2.76"/>
<circle cx="435.18" cy="30.7" r="2.76"/>
<circle cx="438.75" cy="30.7" r="2.76"/>
<circle cx="442.33" cy="30.7" r="2.76"/>
<circle cx="445.9" cy="30.7" r="2.76"/>
<circle cx="449.48" cy="30.7" r="2.76"/>
<circle cx="453.05" cy="30.7" r="2.76"/>
<circle cx="470.93" cy="30.7" r="2.76"/>
<circle cx="488.8" cy="30.7" r="2.76"/>
<circle cx="506.68" cy="30.7" r="2.76"/>
<circle cx="524.55" cy="30.7" r="2.76"/>
</g>
<g fill="none" stroke="#ef3d3d" stroke-width="0.85">
<rect x="343.28" y="152.78" width="5.04" height="5.04"/>
<rect x="345.07" y="146.74" width="5.04" height="5.04"/>
<rect x="346.86" y="140.84" width="5.04" height="5.04"/>
<rect x="348.64" y="135.09" width="5.04" height="5.04"/>
<rect x="350.43" y="129.5" width="5.04" height="5.04"/>
<rect x="352.22" y="124.06" width="5.04" height="5.04"/>
<rect x="354.01" y="118.78" width="5.04" height="5.04"/>
<rect x="355.79" y="113.66" width="5.04" height="5.04"/>
<rect x="357.58" y="108.71" width="5.04" height="5.04"/>
<rect x="359.37" y="103.86" width="5.04" height="5.04"/>
<rect x="361.16" y="99.11" width="5.04" height="5.04"/>
<rect x="362.94" y="94.49" width="5.04" height="5.04"/>
<rect x="364.73" y="90.05" width="5.04" height="5.04"/>
<rect x="366.52" y="85.8" width="5.04" height="5.04"/>
<rect x="368.31" y="81.8" width="5.04" height="5.04"/>
<rect x="370.09" y="78.09" width="5.04" height="5.04"/>
<rect x="371.88" y="74.88" width="5.04" height="5.04"/>
<rect x="373.67" y="71.62" width="5.04" height="5.04"/>
<rect x="375.46" y="68.01" width="5.04" height="5.04"/>
<rect x="377.24" y="64.24" width="5.04" height="5.04"/>
<rect x="379.03" y="60.52" width="5.04" height="5.04"/>
<rect x="380.82" y="57.05" width="5.04" height="5.04"/>
<rect x="382.61" y="54.03" width="5.04" height="5.04"/>
<rect x="384.39" y="51.22" width="5.04" height="5.04"/>
<rect x="386.18" y="48.55" width="5.04" height="5.04"/>
<rect x="387.97" y="46.04" width="5.04" height="5.04"/>
<rect x="389.76" y="43.71" width="5.04" height="5.04"/>
<rect x="391.54" y="41.59" width="5.04" height="5.04"/>
<rect x="393.33" y="39.7" width="5.04" height="5.04"/>
</g>
<g fill="none" stroke="#ef3d3d" stroke-width="1.1">
<rect x="396.91" y="36.33" width="5.04" height="5.04"/>
<rect x="400.48" y="33.67" width="5.04" height="5.04"/>
<rect x="404.06" y="31.9" width="5.04" height="5.04"/>
<rect x="407.63" y="30.32" width="5.04" height="5.04"/>
<rect x="411.21" y="29.06" width="5.04" height="5.04"/>
<rect x="414.78" y="28.31" width="5.04" height="5.04"/>
<rect x="418.36" y="28.21" width="5.04" height="5.04"/>
<rect x="421.93" y="28.28" width="5.04" height="5.04"/>
<rect x="425.51" y="28.28" width="5.04" height="5.04"/>
<rect x="429.08" y="28.28" width="5.04" height="5.04"/>
<rect x="432.66" y="28.28" width="5.04" height="5.04"/>
<rect x="436.23" y="28.28" width="5.04" height="5.04"/>
<rect x="439.81" y="28.28" width="5.04" height="5.04"/>
<rect x="443.38" y="28.28" width="5.04" height="5.04"/>
<rect x="446.96" y="28.28" width="5.04" height="5.04"/>
<rect x="450.53" y="28.28" width="5.04" height="5.04"/>
<rect x="468.41" y="28.27" width="5.04" height="5.04"/>
<rect x="486.28" y="28.26" width="5.04" height="5.04"/>
<rect x="504.16" y="28.23" width="5.04" height="5.04"/>
<rect x="522.03" y="28.18" width="5.04" height="5.04"/>
</g>
<g fill="none" stroke="#1f6fe0" stroke-width="0.85">
<path d="M345.8 151.88L349.16 157.4L342.44 157.4Z"/>
<path d="M347.59 147.38L350.95 152.9L344.23 152.9Z"/>
<path d="M349.38 142.95L352.74 148.47L346.01 148.47Z"/>
<path d="M351.16 138.61L354.52 144.13L347.8 144.13Z"/>
<path d="M352.95 134.36L356.31 139.88L349.59 139.88Z"/>
<path d="M354.74 130.19L358.1 135.71L351.38 135.71Z"/>
<path d="M356.53 126.12L359.89 131.64L353.17 131.64Z"/>
<path d="M358.31 122.15L361.67 127.67L354.95 127.67Z"/>
<path d="M360.1 118.28L363.46 123.8L356.74 123.8Z"/>
<path d="M361.89 114.51L365.25 120.03L358.53 120.03Z"/>
<path d="M363.68 110.85L367.04 116.37L360.31 116.37Z"/>
<path d="M365.46 107.3L368.82 112.82L362.1 112.82Z"/>
<path d="M367.25 103.82L370.61 109.34L363.89 109.34Z"/>
<path d="M369.04 100.42L372.4 105.94L365.68 105.94Z"/>
<path d="M370.82 97.09L374.19 102.61L367.46 102.61Z"/>
<path d="M372.61 93.84L375.97 99.36L369.25 99.36Z"/>
<path d="M374.4 90.66L377.76 96.18L371.04 96.18Z"/>
<path d="M376.19 87.56L379.55 93.08L372.83 93.08Z"/>
<path d="M377.98 84.55L381.34 90.07L374.62 90.07Z"/>
<path d="M379.76 81.62L383.12 87.14L376.4 87.14Z"/>
<path d="M381.55 78.77L384.91 84.29L378.19 84.29Z"/>
<path d="M383.34 76.01L386.7 81.53L379.98 81.53Z"/>
<path d="M385.12 73.34L388.49 78.86L381.76 78.86Z"/>
<path d="M386.91 70.77L390.27 76.29L383.55 76.29Z"/>
<path d="M388.7 68.29L392.06 73.81L385.34 73.81Z"/>
<path d="M390.49 65.89L393.85 71.41L387.13 71.41Z"/>
<path d="M392.28 63.55L395.64 69.07L388.92 69.07Z"/>
<path d="M394.06 61.27L397.42 66.79L390.7 66.79Z"/>
<path d="M395.85 59.04L399.21 64.56L392.49 64.56Z"/>
</g>
<g fill="none" stroke="#1f6fe0" stroke-width="1.1">
<path d="M399.43 54.68L402.79 60.2L396.06 60.2Z"/>
<path d="M403 50.38L406.36 55.9L399.64 55.9Z"/>
<path d="M406.58 46.27L409.94 51.79L403.22 51.79Z"/>
<path d="M410.15 42.57L413.51 48.09L406.79 48.09Z"/>
<path d="M413.73 39.2L417.09 44.72L410.37 44.72Z"/>
<path d="M417.3 36.06L420.66 41.58L413.94 41.58Z"/>
<path d="M420.88 33.37L424.24 38.89L417.51 38.89Z"/>
<path d="M424.45 31.29L427.81 36.81L421.09 36.81Z"/>
<path d="M428.03 29.43L431.39 34.95L424.67 34.95Z"/>
<path d="M431.6 28.1L434.96 33.62L428.24 33.62Z"/>
<path d="M435.18 27.62L438.54 33.14L431.81 33.14Z"/>
<path d="M438.75 27.38L442.11 32.9L435.39 32.9Z"/>
<path d="M442.33 27.28L445.69 32.8L438.97 32.8Z"/>
<path d="M445.9 27.28L449.26 32.8L442.54 32.8Z"/>
<path d="M449.48 27.28L452.84 32.8L446.12 32.8Z"/>
<path d="M453.05 27.28L456.41 32.8L449.69 32.8Z"/>
<path d="M470.93 27.28L474.29 32.8L467.56 32.8Z"/>
<path d="M488.8 27.28L492.16 32.8L485.44 32.8Z"/>
<path d="M506.68 27.28L510.04 32.8L503.31 32.8Z"/>
<path d="M524.55 27.28L527.91 32.8L521.19 32.8Z"/>
</g>
<g fill="none" stroke="#2fa35f" stroke-width="0.85">
<path d="M345.8 158.72L349.16 153.2L342.44 153.2Z"/>
<path d="M347.59 155.31L350.95 149.79L344.23 149.79Z"/>
<path d="M349.38 151.93L352.74 146.41L346.01 146.41Z"/>
<path d="M351.16 148.61L354.52 143.09L347.8 143.09Z"/>
<path d="M352.95 145.33L356.31 139.81L349.59 139.81Z"/>
<path d="M354.74 142.1L358.1 136.58L351.38 136.58Z"/>
<path d="M356.53 138.91L359.89 133.39L353.17 133.39Z"/>
<path d="M358.31 135.78L361.67 130.26L354.95 130.26Z"/>
<path d="M360.1 132.7L363.46 127.18L356.74 127.18Z"/>
<path d="M361.89 129.67L365.25 124.15L358.53 124.15Z"/>
<path d="M363.68 126.7L367.04 121.18L360.31 121.18Z"/>
<path d="M365.46 123.77L368.82 118.25L362.1 118.25Z"/>
<path d="M367.25 120.91L370.61 115.39L363.89 115.39Z"/>
<path d="M369.04 118.1L372.4 112.58L365.68 112.58Z"/>
<path d="M370.82 115.35L374.19 109.83L367.46 109.83Z"/>
<path d="M372.61 112.66L375.97 107.14L369.25 107.14Z"/>
<path d="M374.4 110.03L377.76 104.51L371.04 104.51Z"/>
<path d="M376.19 107.45L379.55 101.93L372.83 101.93Z"/>
<path d="M377.98 104.92L381.34 99.4L374.62 99.4Z"/>
<path d="M379.76 102.43L383.12 96.91L376.4 96.91Z"/>
<path d="M381.55 99.99L384.91 94.47L378.19 94.47Z"/>
<path d="M383.34 97.58L386.7 92.06L379.98 92.06Z"/>
<path d="M385.12 95.21L388.49 89.69L381.76 89.69Z"/>
<path d="M386.91 92.86L390.27 87.34L383.55 87.34Z"/>
<path d="M388.7 90.54L392.06 85.02L385.34 85.02Z"/>
<path d="M390.49 88.24L393.85 82.72L387.13 82.72Z"/>
<path d="M392.28 85.95L395.64 80.43L388.92 80.43Z"/>
<path d="M394.06 83.68L397.42 78.16L390.7 78.16Z"/>
<path d="M395.85 81.42L399.21 75.9L392.49 75.9Z"/>
</g>
<g fill="none" stroke="#2fa35f" stroke-width="1.1">
<path d="M399.43 77L402.79 71.48L396.06 71.48Z"/>
<path d="M403 72.69L406.36 67.17L399.64 67.17Z"/>
<path d="M406.58 68.48L409.94 62.96L403.22 62.96Z"/>
<path d="M410.15 64.34L413.51 58.82L406.79 58.82Z"/>
<path d="M413.73 60.23L417.09 54.71L410.37 54.71Z"/>
<path d="M417.3 56.15L420.66 50.63L413.94 50.63Z"/>
<path d="M420.88 52.35L424.24 46.83L417.51 46.83Z"/>
<path d="M424.45 48.99L427.81 43.47L421.09 43.47Z"/>
<path d="M428.03 46.01L431.39 40.49L424.67 40.49Z"/>
<path d="M431.6 43.43L434.96 37.91L428.24 37.91Z"/>
<path d="M435.18 41.22L438.54 35.7L431.81 35.7Z"/>
<path d="M438.75 39.68L442.11 34.16L435.39 34.16Z"/>
<path d="M442.33 38.54L445.69 33.02L438.97 33.02Z"/>
<path d="M445.9 37.55L449.26 32.03L442.54 32.03Z"/>
<path d="M449.48 36.58L452.84 31.06L446.12 31.06Z"/>
<path d="M453.05 35.84L456.41 30.32L449.69 30.32Z"/>
<path d="M470.93 34.13L474.29 28.61L467.56 28.61Z"/>
<path d="M488.8 34.13L492.16 28.61L485.44 28.61Z"/>
<path d="M506.68 34.13L510.04 28.61L503.31 28.61Z"/>
<path d="M524.55 34.13L527.91 28.61L521.19 28.61Z"/>
</g>
<polyline fill="none" stroke="#4a4a4a" stroke-width="1.4" stroke-linejoin="round" points="345.8,155.3 346.69,152.33 347.59,149.35 348.48,146.37 349.38,143.38 350.27,140.39 351.16,137.39 352.06,134.39 352.95,131.38 353.84,128.36 354.74,125.34 355.63,122.31 356.53,119.28 357.42,116.24 358.31,113.2 359.21,110.12 360.1,107 360.99,103.84 361.89,100.67 362.78,97.5 363.68,94.35 364.57,91.25 365.46,88.2 366.36,85.24 367.25,82.37 368.14,79.6 369.04,76.9 369.93,74.26 370.82,71.68 371.72,69.16 372.61,66.7 373.51,64.29 374.4,61.87 375.29,59.44 376.19,57.08 377.08,54.85 377.98,52.82 378.87,51.06 379.76,49.46 380.66,47.96 381.55,46.55 382.44,45.23 383.34,43.99 384.23,42.83 385.12,41.75 386.02,40.73 386.91,39.75 387.81,38.82 388.7,37.93 389.59,37.1 390.49,36.34 391.38,35.64 392.28,35.03 393.17,34.47 394.06,33.92 394.96,33.38 395.85,32.87 396.74,32.4 397.64,31.99 398.53,31.65 399.43,31.38 400.32,31.21 401.21,31.12 402.11,31.04 403,30.97 403.89,30.91 404.79,30.86 405.68,30.83 406.58,30.8 407.47,30.78 408.36,30.76 409.26,30.75 410.15,30.73 411.04,30.72 411.94,30.71 412.83,30.71 413.73,30.7 414.62,30.7 415.51,30.7 416.41,30.7 417.3,30.7 418.19,30.7 419.09,30.7 419.98,30.7 420.88,30.7 421.77,30.7 422.66,30.7 423.56,30.7 424.45,30.7 425.34,30.7 426.24,30.7 427.13,30.7 428.03,30.7 428.92,30.7 429.81,30.7 430.71,30.7 431.6,30.7 432.49,30.7 433.39,30.7 434.28,30.7 435.18,30.7 436.07,30.7 436.96,30.7 437.86,30.7 438.75,30.7 439.64,30.7 440.54,30.7 441.43,30.7 442.33,30.7 443.22,30.7 444.11,30.7 445.01,30.7 445.9,30.7 446.79,30.7 447.69,30.7 448.58,30.7 449.48,30.7 450.37,30.7 451.26,30.7 452.16,30.7 453.05,30.7 453.94,30.7 454.84,30.7 455.73,30.7 456.62,30.7 457.52,30.7 458.41,30.7 459.31,30.7 460.2,30.7 461.09,30.7 461.99,30.7 462.88,30.7 463.78,30.7 464.67,30.7 465.56,30.7 466.46,30.7 467.35,30.7 468.24,30.7 469.14,30.7 470.03,30.7 470.93,30.7 471.82,30.7 472.71,30.7 473.61,30.7 474.5,30.7 475.39,30.7 476.29,30.7 477.18,30.7 478.08,30.7 478.97,30.7 479.86,30.7 480.76,30.7 481.65,30.7 482.54,30.7 483.44,30.7 484.33,30.7 485.23,30.7 486.12,30.7 487.01,30.7 487.91,30.7 488.8,30.7 489.69,30.7 490.59,30.7 491.48,30.7 492.38,30.7 493.27,30.7 494.16,30.7 495.06,30.7 495.95,30.7 496.84,30.7 497.74,30.7 498.63,30.7 499.52,30.7 500.42,30.7 501.31,30.7 502.21,30.7 503.1,30.7 503.99,30.7 504.89,30.7 505.78,30.7 506.68,30.7 507.57,30.7 508.46,30.7 509.36,30.7 510.25,30.7 511.14,30.7 512.04,30.7 512.93,30.7 513.83,30.7 514.72,30.7 515.61,30.7 516.51,30.7 517.4,30.7 518.29,30.7 519.19,30.7 520.08,30.7 520.98,30.7 521.87,30.7 522.76,30.7 523.66,30.7 524.55,30.7"/>
<polyline fill="none" stroke="#ef3d3d" stroke-width="1.4" stroke-linejoin="round" points="345.8,155.3 346.69,152.4 347.59,149.52 348.48,146.69 349.38,143.88 350.27,141.11 351.16,138.38 352.06,135.68 352.95,133.02 353.84,130.39 354.74,127.8 355.63,125.25 356.53,122.73 357.42,120.25 358.31,117.81 359.21,115.41 360.1,113.05 360.99,110.73 361.89,108.45 362.78,106.2 363.68,103.99 364.57,101.81 365.46,99.66 366.36,97.55 367.25,95.46 368.14,93.4 369.04,91.38 369.93,89.38 370.82,87.4 371.72,85.45 372.61,83.53 373.51,81.62 374.4,79.73 375.29,77.85 376.19,75.98 377.08,74.12 377.98,72.28 378.87,70.47 379.76,68.68 380.66,66.93 381.55,65.22 382.44,63.55 383.34,61.93 384.23,60.36 385.12,58.85 386.02,57.4 386.91,55.99 387.81,54.61 388.7,53.25 389.59,51.91 390.49,50.61 391.38,49.35 392.28,48.13 393.17,46.96 394.06,45.83 394.96,44.76 395.85,43.75 396.74,42.79 397.64,41.9 398.53,41.03 399.43,40.18 400.32,39.36 401.21,38.58 402.11,37.84 403,37.17 403.89,36.55 404.79,36.01 405.68,35.55 406.58,35.12 407.47,34.7 408.36,34.28 409.26,33.87 410.15,33.48 411.04,33.09 411.94,32.73 412.83,32.39 413.73,32.06 414.62,31.77 415.51,31.51 416.41,31.27 417.3,31.08 418.19,30.92 419.09,30.8 419.98,30.73 420.88,30.7 421.77,30.7 422.66,30.7 423.56,30.7 424.45,30.7 425.34,30.7 426.24,30.7 427.13,30.7 428.03,30.7 428.92,30.7 429.81,30.7 430.71,30.7 431.6,30.7 432.49,30.7 433.39,30.7 434.28,30.7 435.18,30.7 436.07,30.7 436.96,30.7 437.86,30.7 438.75,30.7 439.64,30.7 440.54,30.7 441.43,30.7 442.33,30.7 443.22,30.7 444.11,30.7 445.01,30.7 445.9,30.7 446.79,30.7 447.69,30.7 448.58,30.7 449.48,30.7 450.37,30.7 451.26,30.7 452.16,30.7 453.05,30.7 453.94,30.7 454.84,30.7 455.73,30.7 456.62,30.7 457.52,30.7 458.41,30.7 459.31,30.7 460.2,30.7 461.09,30.7 461.99,30.7 462.88,30.7 463.78,30.7 464.67,30.7 465.56,30.7 466.46,30.7 467.35,30.7 468.24,30.7 469.14,30.7 470.03,30.7 470.93,30.7 471.82,30.7 472.71,30.7 473.61,30.7 474.5,30.7 475.39,30.7 476.29,30.7 477.18,30.7 478.08,30.7 478.97,30.7 479.86,30.7 480.76,30.7 481.65,30.7 482.54,30.7 483.44,30.7 484.33,30.7 485.23,30.7 486.12,30.7 487.01,30.7 487.91,30.7 488.8,30.7 489.69,30.7 490.59,30.7 491.48,30.7 492.38,30.7 493.27,30.7 494.16,30.7 495.06,30.7 495.95,30.7 496.84,30.7 497.74,30.7 498.63,30.7 499.52,30.7 500.42,30.7 501.31,30.7 502.21,30.7 503.1,30.7 503.99,30.7 504.89,30.7 505.78,30.7 506.68,30.7 507.57,30.7 508.46,30.7 509.36,30.7 510.25,30.7 511.14,30.7 512.04,30.7 512.93,30.7 513.83,30.7 514.72,30.7 515.61,30.7 516.51,30.7 517.4,30.7 518.29,30.7 519.19,30.7 520.08,30.7 520.98,30.7 521.87,30.7 522.76,30.7 523.66,30.7 524.55,30.7"/>
<polyline fill="none" stroke="#1f6fe0" stroke-width="1.4" stroke-linejoin="round" points="345.8,155.3 346.69,153.15 347.59,151.02 348.48,148.91 349.38,146.81 350.27,144.73 351.16,142.67 352.06,140.63 352.95,138.6 353.84,136.59 354.74,134.61 355.63,132.64 356.53,130.69 357.42,128.76 358.31,126.85 359.21,124.96 360.1,123.09 360.99,121.25 361.89,119.42 362.78,117.62 363.68,115.83 364.57,114.07 365.46,112.34 366.36,110.62 367.25,108.91 368.14,107.22 369.04,105.54 369.93,103.88 370.82,102.24 371.72,100.6 372.61,98.99 373.51,97.39 374.4,95.81 375.29,94.25 376.19,92.7 377.08,91.17 377.98,89.66 378.87,88.17 379.76,86.7 380.66,85.25 381.55,83.82 382.44,82.41 383.34,81.03 384.23,79.66 385.12,78.32 386.02,77 386.91,75.71 387.81,74.43 388.7,73.18 389.59,71.95 390.49,70.74 391.38,69.54 392.28,68.36 393.17,67.2 394.06,66.05 394.96,64.92 395.85,63.79 396.74,62.68 397.64,61.58 398.53,60.48 399.43,59.4 400.32,58.32 401.21,57.24 402.11,56.17 403,55.1 403.89,54.05 404.79,53 405.68,51.97 406.58,50.96 407.47,49.96 408.36,48.98 409.26,48.03 410.15,47.1 411.04,46.2 411.94,45.32 412.83,44.43 413.73,43.55 414.62,42.67 415.51,41.8 416.41,40.94 417.3,40.11 418.19,39.31 419.09,38.54 419.98,37.81 420.88,37.12 421.77,36.49 422.66,35.92 423.56,35.41 424.45,34.91 425.34,34.41 426.24,33.93 427.13,33.46 428.03,33.02 428.92,32.61 429.81,32.23 430.71,31.9 431.6,31.62 432.49,31.4 433.39,31.24 434.28,31.15 435.18,31.07 436.07,30.99 436.96,30.92 437.86,30.86 438.75,30.81 439.64,30.76 440.54,30.73 441.43,30.71 442.33,30.7 443.22,30.7 444.11,30.7 445.01,30.7 445.9,30.7 446.79,30.7 447.69,30.7 448.58,30.7 449.48,30.7 450.37,30.7 451.26,30.7 452.16,30.7 453.05,30.7 453.94,30.7 454.84,30.7 455.73,30.7 456.62,30.7 457.52,30.7 458.41,30.7 459.31,30.7 460.2,30.7 461.09,30.7 461.99,30.7 462.88,30.7 463.78,30.7 464.67,30.7 465.56,30.7 466.46,30.7 467.35,30.7 468.24,30.7 469.14,30.7 470.03,30.7 470.93,30.7 471.82,30.7 472.71,30.7 473.61,30.7 474.5,30.7 475.39,30.7 476.29,30.7 477.18,30.7 478.08,30.7 478.97,30.7 479.86,30.7 480.76,30.7 481.65,30.7 482.54,30.7 483.44,30.7 484.33,30.7 485.23,30.7 486.12,30.7 487.01,30.7 487.91,30.7 488.8,30.7 489.69,30.7 490.59,30.7 491.48,30.7 492.38,30.7 493.27,30.7 494.16,30.7 495.06,30.7 495.95,30.7 496.84,30.7 497.74,30.7 498.63,30.7 499.52,30.7 500.42,30.7 501.31,30.7 502.21,30.7 503.1,30.7 503.99,30.7 504.89,30.7 505.78,30.7 506.68,30.7 507.57,30.7 508.46,30.7 509.36,30.7 510.25,30.7 511.14,30.7 512.04,30.7 512.93,30.7 513.83,30.7 514.72,30.7 515.61,30.7 516.51,30.7 517.4,30.7 518.29,30.7 519.19,30.7 520.08,30.7 520.98,30.7 521.87,30.7 522.76,30.7 523.66,30.7 524.55,30.7"/>
<polyline fill="none" stroke="#2fa35f" stroke-width="1.4" stroke-linejoin="round" points="345.8,155.3 346.69,153.62 347.59,151.95 348.48,150.29 349.38,148.64 350.27,147 351.16,145.36 352.06,143.74 352.95,142.12 353.84,140.52 354.74,138.92 355.63,137.34 356.53,135.76 357.42,134.2 358.31,132.64 359.21,131.09 360.1,129.56 360.99,128.03 361.89,126.52 362.78,125.01 363.68,123.51 364.57,122.03 365.46,120.55 366.36,119.09 367.25,117.64 368.14,116.19 369.04,114.76 369.93,113.34 370.82,111.93 371.72,110.53 372.61,109.15 373.51,107.79 374.4,106.44 375.29,105.11 376.19,103.79 377.08,102.48 377.98,101.19 378.87,99.9 379.76,98.62 380.66,97.35 381.55,96.08 382.44,94.82 383.34,93.57 384.23,92.32 385.12,91.06 386.02,89.81 386.91,88.56 387.81,87.31 388.7,86.05 389.59,84.79 390.49,83.53 391.38,82.26 392.28,80.98 393.17,79.69 394.06,78.39 394.96,77.08 395.85,75.73 396.74,74.37 397.64,72.98 398.53,71.59 399.43,70.18 400.32,68.77 401.21,67.35 402.11,65.94 403,64.53 403.89,63.14 404.79,61.76 405.68,60.39 406.58,59.05 407.47,57.74 408.36,56.46 409.26,55.21 410.15,54.01 411.04,52.84 411.94,51.73 412.83,50.66 413.73,49.64 414.62,48.63 415.51,47.62 416.41,46.62 417.3,45.63 418.19,44.65 419.09,43.69 419.98,42.76 420.88,41.85 421.77,40.97 422.66,40.13 423.56,39.33 424.45,38.57 425.34,37.86 426.24,37.21 427.13,36.6 428.03,36.06 428.92,35.58 429.81,35.15 430.71,34.72 431.6,34.31 432.49,33.91 433.39,33.53 434.28,33.16 435.18,32.82 436.07,32.51 436.96,32.22 437.86,31.95 438.75,31.72 439.64,31.52 440.54,31.35 441.43,31.22 442.33,31.11 443.22,31.02 444.11,30.93 445.01,30.85 445.9,30.78 446.79,30.73 447.69,30.71 448.58,30.7 449.48,30.7 450.37,30.7 451.26,30.7 452.16,30.7 453.05,30.7 453.94,30.7 454.84,30.7 455.73,30.7 456.62,30.7 457.52,30.7 458.41,30.7 459.31,30.7 460.2,30.7 461.09,30.7 461.99,30.7 462.88,30.7 463.78,30.7 464.67,30.7 465.56,30.7 466.46,30.7 467.35,30.7 468.24,30.7 469.14,30.7 470.03,30.7 470.93,30.7 471.82,30.7 472.71,30.7 473.61,30.7 474.5,30.7 475.39,30.7 476.29,30.7 477.18,30.7 478.08,30.7 478.97,30.7 479.86,30.7 480.76,30.7 481.65,30.7 482.54,30.7 483.44,30.7 484.33,30.7 485.23,30.7 486.12,30.7 487.01,30.7 487.91,30.7 488.8,30.7 489.69,30.7 490.59,30.7 491.48,30.7 492.38,30.7 493.27,30.7 494.16,30.7 495.06,30.7 495.95,30.7 496.84,30.7 497.74,30.7 498.63,30.7 499.52,30.7 500.42,30.7 501.31,30.7 502.21,30.7 503.1,30.7 503.99,30.7 504.89,30.7 505.78,30.7 506.68,30.7 507.57,30.7 508.46,30.7 509.36,30.7 510.25,30.7 511.14,30.7 512.04,30.7 512.93,30.7 513.83,30.7 514.72,30.7 515.61,30.7 516.51,30.7 517.4,30.7 518.29,30.7 519.19,30.7 520.08,30.7 520.98,30.7 521.87,30.7 522.76,30.7 523.66,30.7 524.55,30.7"/>
</g>
<line x1="345.8" y1="155.3" x2="345.8" y2="152.6" stroke="#000" stroke-width="1.8"/>
<line x1="381.55" y1="155.3" x2="381.55" y2="152.6" stroke="#000" stroke-width="1.8"/>
<line x1="417.3" y1="155.3" x2="417.3" y2="152.6" stroke="#000" stroke-width="1.8"/>
<line x1="453.05" y1="155.3" x2="453.05" y2="152.6" stroke="#000" stroke-width="1.8"/>
<line x1="488.8" y1="155.3" x2="488.8" y2="152.6" stroke="#000" stroke-width="1.8"/>
<line x1="524.55" y1="155.3" x2="524.55" y2="152.6" stroke="#000" stroke-width="1.8"/>
<line x1="363.68" y1="155.3" x2="363.68" y2="153.2" stroke="#000" stroke-width="1.2"/>
<line x1="399.43" y1="155.3" x2="399.43" y2="153.2" stroke="#000" stroke-width="1.2"/>
<line x1="435.18" y1="155.3" x2="435.18" y2="153.2" stroke="#000" stroke-width="1.2"/>
<line x1="470.93" y1="155.3" x2="470.93" y2="153.2" stroke="#000" stroke-width="1.2"/>
<line x1="506.68" y1="155.3" x2="506.68" y2="153.2" stroke="#000" stroke-width="1.2"/>
<line x1="346" y1="155.3" x2="348.7" y2="155.3" stroke="#000" stroke-width="1.8"/>
<line x1="346" y1="130.97" x2="348.7" y2="130.97" stroke="#000" stroke-width="1.8"/>
<line x1="346" y1="106.63" x2="348.7" y2="106.63" stroke="#000" stroke-width="1.8"/>
<line x1="346" y1="82.3" x2="348.7" y2="82.3" stroke="#000" stroke-width="1.8"/>
<line x1="346" y1="57.96" x2="348.7" y2="57.96" stroke="#000" stroke-width="1.8"/>
<line x1="346" y1="33.63" x2="348.7" y2="33.63" stroke="#000" stroke-width="1.8"/>
<line x1="346" y1="9.29" x2="348.7" y2="9.29" stroke="#000" stroke-width="1.8"/>
<rect x="346" y="9.3" width="196.7" height="146" fill="none" stroke="#000" stroke-width="2.6"/>
<text x="345.8" y="167.6" font-size="11.8" text-anchor="middle" font-weight="bold" font-style="normal">0</text>
<text x="381.55" y="167.6" font-size="11.8" text-anchor="middle" font-weight="bold" font-style="normal">10</text>
<text x="417.3" y="167.6" font-size="11.8" text-anchor="middle" font-weight="bold" font-style="normal">20</text>
<text x="453.05" y="167.6" font-size="11.8" text-anchor="middle" font-weight="bold" font-style="normal">30</text>
<text x="488.8" y="167.6" font-size="11.8" text-anchor="middle" font-weight="bold" font-style="normal">40</text>
<text x="524.55" y="167.6" font-size="11.8" text-anchor="middle" font-weight="bold" font-style="normal">50</text>
<text x="342.8" y="159.2" font-size="11.8" text-anchor="end" font-weight="bold" font-style="normal">0.0</text>
<text x="342.8" y="134.87" font-size="11.8" text-anchor="end" font-weight="bold" font-style="normal">5.0</text>
<text x="342.8" y="110.53" font-size="11.8" text-anchor="end" font-weight="bold" font-style="normal">10.0</text>
<text x="342.8" y="86.2" font-size="11.8" text-anchor="end" font-weight="bold" font-style="normal">15.0</text>
<text x="342.8" y="61.86" font-size="11.8" text-anchor="end" font-weight="bold" font-style="normal">20.0</text>
<text x="342.8" y="37.53" font-size="11.8" text-anchor="end" font-weight="bold" font-style="normal">25.0</text>
<text x="342.8" y="13.19" font-size="11.8" text-anchor="end" font-weight="bold" font-style="normal">30.0</text>
<text x="483.6" y="54" font-size="11.6" text-anchor="start" font-weight="bold"><tspan font-style="italic">L</tspan><tspan font-style="italic" font-size="8.47" dy="2.6">offset</tspan><tspan dy="-2.6"> (μm)</tspan></text>
<g fill="none" stroke="#4a4a4a" stroke-width="1.25">
<circle cx="497" cy="63.1" r="3.24"/>
</g>
<g fill="none" stroke="#ef3d3d" stroke-width="1.25">
<rect x="493.98" y="71.58" width="6.05" height="6.05"/>
</g>
<g fill="none" stroke="#1f6fe0" stroke-width="1.25">
<path d="M497 81.29L501.03 87.92L492.97 87.92Z"/>
</g>
<g fill="none" stroke="#2fa35f" stroke-width="1.25">
<path d="M497 101.51L501.03 94.88L492.97 94.88Z"/>
</g>
<line x1="483" y1="108.2" x2="510" y2="108.2" stroke="#4a4a4a" stroke-width="1.9"/>
<line x1="483" y1="119.7" x2="510" y2="119.7" stroke="#ef3d3d" stroke-width="1.9"/>
<line x1="483" y1="131" x2="510" y2="131" stroke="#1f6fe0" stroke-width="1.9"/>
<line x1="483" y1="142.3" x2="510" y2="142.3" stroke="#2fa35f" stroke-width="1.9"/>
<text x="521.2" y="66.9" font-size="11" text-anchor="middle" font-weight="bold" font-style="normal">5</text>
<text x="521.2" y="78.4" font-size="11" text-anchor="middle" font-weight="bold" font-style="normal">10</text>
<text x="521.2" y="89.2" font-size="11" text-anchor="middle" font-weight="bold" font-style="normal">15</text>
<text x="521.2" y="101.2" font-size="11" text-anchor="middle" font-weight="bold" font-style="normal">20</text>
<text x="521.2" y="112" font-size="11" text-anchor="middle" font-weight="bold" font-style="normal">2</text>
<text x="521.2" y="123.5" font-size="11" text-anchor="middle" font-weight="bold" font-style="normal">8</text>
<text x="521.2" y="134.8" font-size="11" text-anchor="middle" font-weight="bold" font-style="normal">15</text>
<text x="521.2" y="146.1" font-size="11" text-anchor="middle" font-weight="bold" font-style="normal">20</text>
<rect x="400.6" y="96.3" width="79.4" height="49.3" rx="7" ry="7" fill="#dadada"/>
<line x1="402.9" y1="113.8" x2="421.8" y2="113.8" stroke="#111" stroke-width="2"/>
<text transform="translate(412.5 126.8) scale(1 1)" font-size="13.6" text-anchor="middle" font-weight="bold">D</text>
<line x1="421.8" y1="120.3" x2="431" y2="120.3" stroke="#111" stroke-width="2"/>
<text transform="translate(426.2 132.6) scale(1 1)" font-size="13.6" text-anchor="middle" font-weight="bold">O</text>
<line x1="432.2" y1="125.4" x2="450.5" y2="125.4" stroke="#111" stroke-width="2"/>
<text transform="translate(441.5 138.8) scale(1 1)" font-size="13.6" text-anchor="middle" font-weight="bold">G</text>
<line x1="451.3" y1="113.8" x2="469.6" y2="113.8" stroke="#111" stroke-width="2"/>
<text transform="translate(459.8 126.8) scale(1 1)" font-size="13.6" text-anchor="middle" font-weight="bold">S</text>
<line x1="472.5" y1="115" x2="472.5" y2="116.6" stroke="#000" stroke-width="1.9"/>
<line x1="472.5" y1="121" x2="472.5" y2="131" stroke="#000" stroke-width="1.9"/>
<line x1="472.5" y1="136.5" x2="472.5" y2="138.1" stroke="#000" stroke-width="1.9"/>
<line x1="472.5" y1="143.2" x2="472.5" y2="144.8" stroke="#000" stroke-width="1.9"/>
<line x1="472.4" y1="101.9" x2="472.4" y2="109.2" stroke="#000" stroke-width="1.5"/>
<path d="M467.37 106.56 A6.3 2.7 0 1 0 478.47 108.02" fill="none" stroke="#000" stroke-width="1.1"/>
<path d="M473.7 106.3 L478.2 104.1 L477.9 107.7 Z" fill="#000"/>
<text transform="translate(11.6 318) rotate(-90)" font-size="11.6" text-anchor="middle" font-weight="bold">I<tspan font-size="7.89" dy="2.2">D</tspan><tspan dy="-2.2">(μA)</tspan></text>
<text x="136" y="415.3" font-size="11.6" text-anchor="middle" font-weight="bold">V<tspan font-size="7.89" dy="2.2">D</tspan><tspan dy="-2.2">(V)</tspan></text>
<clipPath id="clip_pc"><rect x="37.5" y="245.2" width="196.8" height="145.8"/></clipPath>
<g clip-path="url(#clip_pc)">
<g fill="none" stroke="#4a4a4a" stroke-width="1">
<circle cx="37.3" cy="391" r="2.76"/>
<circle cx="38.27" cy="384.68" r="2.76"/>
<circle cx="39.3" cy="378.26" r="2.76"/>
<circle cx="40.37" cy="371.99" r="2.76"/>
<circle cx="41.52" cy="365.71" r="2.76"/>
<circle cx="42.77" cy="359.39" r="2.76"/>
<circle cx="44.13" cy="353.17" r="2.76"/>
<circle cx="45.52" cy="346.9" r="2.76"/>
<circle cx="46.95" cy="340.63" r="2.76"/>
<circle cx="48.42" cy="334.37" r="2.76"/>
<circle cx="49.92" cy="328.12" r="2.76"/>
<circle cx="51.49" cy="321.92" r="2.76"/>
<circle cx="53.14" cy="315.71" r="2.76"/>
<circle cx="54.82" cy="309.63" r="2.76"/>
<circle cx="56.57" cy="303.58" r="2.76"/>
<circle cx="58.36" cy="297.44" r="2.76"/>
<circle cx="60.14" cy="291.76" r="2.76"/>
<circle cx="61.93" cy="287.18" r="2.76"/>
<circle cx="63.72" cy="283.32" r="2.76"/>
<circle cx="65.51" cy="279.91" r="2.76"/>
<circle cx="67.29" cy="276.82" r="2.76"/>
<circle cx="69.08" cy="273.93" r="2.76"/>
<circle cx="70.87" cy="271.16" r="2.76"/>
<circle cx="72.66" cy="268.59" r="2.76"/>
<circle cx="74.44" cy="266.37" r="2.76"/>
<circle cx="76.23" cy="264.58" r="2.76"/>
<circle cx="78.02" cy="262.98" r="2.76"/>
<circle cx="79.81" cy="261.53" r="2.76"/>
<circle cx="81.59" cy="260.31" r="2.76"/>
<circle cx="83.38" cy="259.4" r="2.76"/>
<circle cx="85.17" cy="258.81" r="2.76"/>
<circle cx="86.96" cy="258.33" r="2.76"/>
<circle cx="88.74" cy="257.91" r="2.76"/>
<circle cx="90.53" cy="257.56" r="2.76"/>
<circle cx="92.32" cy="257.28" r="2.76"/>
<circle cx="94.11" cy="257.08" r="2.76"/>
<circle cx="95.89" cy="256.93" r="2.76"/>
<circle cx="97.68" cy="256.8" r="2.76"/>
<circle cx="99.47" cy="256.69" r="2.76"/>
<circle cx="101.26" cy="256.58" r="2.76"/>
<circle cx="103.04" cy="256.48" r="2.76"/>
<circle cx="104.83" cy="256.4" r="2.76"/>
<circle cx="106.62" cy="256.34" r="2.76"/>
<circle cx="108.41" cy="256.28" r="2.76"/>
<circle cx="110.19" cy="256.24" r="2.76"/>
<circle cx="111.98" cy="256.22" r="2.76"/>
<circle cx="113.77" cy="256.21" r="2.76"/>
<circle cx="115.56" cy="256.2" r="2.76"/>
<circle cx="117.34" cy="256.19" r="2.76"/>
<circle cx="119.13" cy="256.18" r="2.76"/>
<circle cx="120.92" cy="256.17" r="2.76"/>
<circle cx="122.71" cy="256.16" r="2.76"/>
<circle cx="124.49" cy="256.15" r="2.76"/>
<circle cx="126.28" cy="256.14" r="2.76"/>
<circle cx="128.07" cy="256.13" r="2.76"/>
<circle cx="129.86" cy="256.12" r="2.76"/>
<circle cx="131.64" cy="256.11" r="2.76"/>
<circle cx="133.43" cy="256.11" r="2.76"/>
<circle cx="135.22" cy="256.1" r="2.76"/>
<circle cx="137.01" cy="256.09" r="2.76"/>
<circle cx="138.79" cy="256.08" r="2.76"/>
<circle cx="140.58" cy="256.08" r="2.76"/>
<circle cx="142.37" cy="256.07" r="2.76"/>
<circle cx="144.16" cy="256.06" r="2.76"/>
</g>
<g fill="none" stroke="#4a4a4a" stroke-width="1.1">
<circle cx="162.43" cy="256.01" r="2.76"/>
<circle cx="180.3" cy="255.98" r="2.76"/>
<circle cx="198.18" cy="255.96" r="2.76"/>
<circle cx="216.05" cy="255.95" r="2.76"/>
</g>
<g fill="none" stroke="#ef3d3d" stroke-width="0.85">
<rect x="34.78" y="388.48" width="5.04" height="5.04"/>
<rect x="36.57" y="384.71" width="5.04" height="5.04"/>
<rect x="38.35" y="381.06" width="5.04" height="5.04"/>
<rect x="40.14" y="377.53" width="5.04" height="5.04"/>
<rect x="41.93" y="374.12" width="5.04" height="5.04"/>
<rect x="43.72" y="370.82" width="5.04" height="5.04"/>
<rect x="45.5" y="367.64" width="5.04" height="5.04"/>
<rect x="47.29" y="364.57" width="5.04" height="5.04"/>
<rect x="49.08" y="361.61" width="5.04" height="5.04"/>
<rect x="50.87" y="358.74" width="5.04" height="5.04"/>
<rect x="52.65" y="355.92" width="5.04" height="5.04"/>
<rect x="54.44" y="353.21" width="5.04" height="5.04"/>
<rect x="56.23" y="350.7" width="5.04" height="5.04"/>
<rect x="58.02" y="348.48" width="5.04" height="5.04"/>
<rect x="59.8" y="346.6" width="5.04" height="5.04"/>
<rect x="61.59" y="344.9" width="5.04" height="5.04"/>
<rect x="63.38" y="343.35" width="5.04" height="5.04"/>
<rect x="65.17" y="341.96" width="5.04" height="5.04"/>
<rect x="66.95" y="340.73" width="5.04" height="5.04"/>
<rect x="68.74" y="339.64" width="5.04" height="5.04"/>
<rect x="70.53" y="338.69" width="5.04" height="5.04"/>
<rect x="72.32" y="338.08" width="5.04" height="5.04"/>
<rect x="74.11" y="337.66" width="5.04" height="5.04"/>
<rect x="75.89" y="337.34" width="5.04" height="5.04"/>
<rect x="77.68" y="337.14" width="5.04" height="5.04"/>
<rect x="79.47" y="337.08" width="5.04" height="5.04"/>
<rect x="81.26" y="337.04" width="5.04" height="5.04"/>
<rect x="83.04" y="337.01" width="5.04" height="5.04"/>
<rect x="84.83" y="337" width="5.04" height="5.04"/>
<rect x="86.62" y="337" width="5.04" height="5.04"/>
<rect x="88.41" y="337" width="5.04" height="5.04"/>
<rect x="90.19" y="337" width="5.04" height="5.04"/>
<rect x="91.98" y="337" width="5.04" height="5.04"/>
<rect x="93.77" y="337" width="5.04" height="5.04"/>
<rect x="95.56" y="337" width="5.04" height="5.04"/>
<rect x="97.34" y="337" width="5.04" height="5.04"/>
<rect x="99.13" y="337" width="5.04" height="5.04"/>
<rect x="100.92" y="337" width="5.04" height="5.04"/>
<rect x="102.7" y="337" width="5.04" height="5.04"/>
<rect x="104.49" y="337" width="5.04" height="5.04"/>
<rect x="106.28" y="337" width="5.04" height="5.04"/>
<rect x="108.07" y="337" width="5.04" height="5.04"/>
<rect x="109.86" y="337" width="5.04" height="5.04"/>
<rect x="111.64" y="337" width="5.04" height="5.04"/>
<rect x="113.43" y="337" width="5.04" height="5.04"/>
<rect x="115.22" y="337" width="5.04" height="5.04"/>
<rect x="117.01" y="337" width="5.04" height="5.04"/>
<rect x="118.79" y="337" width="5.04" height="5.04"/>
<rect x="120.58" y="337" width="5.04" height="5.04"/>
<rect x="122.37" y="337" width="5.04" height="5.04"/>
<rect x="124.16" y="337" width="5.04" height="5.04"/>
<rect x="125.94" y="337" width="5.04" height="5.04"/>
<rect x="127.73" y="337" width="5.04" height="5.04"/>
<rect x="129.52" y="337" width="5.04" height="5.04"/>
<rect x="131.3" y="337" width="5.04" height="5.04"/>
<rect x="133.09" y="337" width="5.04" height="5.04"/>
<rect x="134.88" y="337" width="5.04" height="5.04"/>
<rect x="136.67" y="337" width="5.04" height="5.04"/>
<rect x="138.46" y="337" width="5.04" height="5.04"/>
<rect x="140.24" y="337" width="5.04" height="5.04"/>
<rect x="142.03" y="337" width="5.04" height="5.04"/>
</g>
<g fill="none" stroke="#ef3d3d" stroke-width="1.1">
<rect x="159.91" y="337" width="5.04" height="5.04"/>
<rect x="177.78" y="337" width="5.04" height="5.04"/>
<rect x="195.66" y="337" width="5.04" height="5.04"/>
<rect x="213.53" y="337" width="5.04" height="5.04"/>
</g>
<g fill="none" stroke="#1f6fe0" stroke-width="0.85">
<path d="M37.3 387.58L40.66 393.1L33.94 393.1Z"/>
<path d="M37.84 387L41.2 392.52L34.48 392.52Z"/>
<path d="M38.37 386.42L41.73 391.94L35.01 391.94Z"/>
<path d="M38.91 385.84L42.27 391.36L35.55 391.36Z"/>
<path d="M39.45 385.27L42.8 390.79L36.09 390.79Z"/>
<path d="M39.98 384.69L43.34 390.21L36.62 390.21Z"/>
<path d="M40.52 384.12L43.88 389.64L37.16 389.64Z"/>
<path d="M41.05 383.55L44.41 389.07L37.69 389.07Z"/>
<path d="M41.59 382.97L44.95 388.49L38.23 388.49Z"/>
<path d="M42.13 382.4L45.49 387.92L38.77 387.92Z"/>
<path d="M42.66 381.83L46.02 387.35L39.3 387.35Z"/>
<path d="M43.2 381.27L46.56 386.79L39.84 386.79Z"/>
<path d="M43.73 380.7L47.09 386.22L40.38 386.22Z"/>
<path d="M44.27 380.13L47.63 385.65L40.91 385.65Z"/>
<path d="M44.81 379.57L48.17 385.09L41.45 385.09Z"/>
<path d="M45.34 379L48.7 384.52L41.98 384.52Z"/>
<path d="M45.88 378.44L49.24 383.96L42.52 383.96Z"/>
<path d="M46.42 377.88L49.78 383.4L43.06 383.4Z"/>
<path d="M46.95 377.31L50.31 382.83L43.59 382.83Z"/>
<path d="M47.49 376.75L50.85 382.27L44.13 382.27Z"/>
<path d="M48.02 376.19L51.38 381.71L44.66 381.71Z"/>
<path d="M48.56 375.63L51.92 381.15L45.2 381.15Z"/>
<path d="M49.1 375.07L52.46 380.59L45.74 380.59Z"/>
<path d="M49.63 374.52L52.99 380.04L46.27 380.04Z"/>
<path d="M50.17 373.96L53.53 379.48L46.81 379.48Z"/>
<path d="M50.71 373.4L54.07 378.92L47.35 378.92Z"/>
<path d="M51.24 372.85L54.6 378.37L47.88 378.37Z"/>
<path d="M51.78 372.29L55.14 377.81L48.42 377.81Z"/>
<path d="M52.31 371.74L55.67 377.26L48.95 377.26Z"/>
<path d="M52.85 371.19L56.21 376.71L49.49 376.71Z"/>
<path d="M53.39 370.63L56.75 376.15L50.03 376.15Z"/>
<path d="M53.92 370.06L57.28 375.58L50.56 375.58Z"/>
<path d="M54.46 369.49L57.82 375.01L51.1 375.01Z"/>
<path d="M55 368.92L58.36 374.44L51.64 374.44Z"/>
<path d="M55.53 368.34L58.89 373.86L52.17 373.86Z"/>
<path d="M56.07 367.77L59.43 373.29L52.71 373.29Z"/>
<path d="M56.6 367.2L59.96 372.72L53.24 372.72Z"/>
<path d="M57.14 366.63L60.5 372.15L53.78 372.15Z"/>
<path d="M57.68 366.08L61.04 371.6L54.32 371.6Z"/>
<path d="M58.21 365.53L61.57 371.05L54.85 371.05Z"/>
<path d="M58.75 364.99L62.11 370.51L55.39 370.51Z"/>
<path d="M59.29 364.46L62.65 369.98L55.93 369.98Z"/>
<path d="M59.82 363.96L63.18 369.48L56.46 369.48Z"/>
<path d="M60.36 363.46L63.72 368.98L57 368.98Z"/>
<path d="M60.89 362.99L64.25 368.51L57.53 368.51Z"/>
<path d="M61.43 362.54L64.79 368.06L58.07 368.06Z"/>
<path d="M61.97 362.08L65.33 367.6L58.61 367.6Z"/>
<path d="M62.5 361.62L65.86 367.14L59.14 367.14Z"/>
<path d="M63.04 361.16L66.4 366.68L59.68 366.68Z"/>
<path d="M63.58 360.7L66.94 366.22L60.22 366.22Z"/>
<path d="M64.11 360.24L67.47 365.76L60.75 365.76Z"/>
<path d="M64.65 359.8L68.01 365.32L61.29 365.32Z"/>
<path d="M65.19 359.36L68.55 364.88L61.83 364.88Z"/>
<path d="M65.72 358.93L69.08 364.45L62.36 364.45Z"/>
<path d="M66.26 358.53L69.62 364.05L62.9 364.05Z"/>
<path d="M66.79 358.14L70.15 363.66L63.43 363.66Z"/>
<path d="M67.33 357.77L70.69 363.29L63.97 363.29Z"/>
<path d="M67.87 357.43L71.23 362.95L64.51 362.95Z"/>
<path d="M68.4 357.12L71.76 362.64L65.04 362.64Z"/>
<path d="M68.94 356.84L72.3 362.36L65.58 362.36Z"/>
<path d="M69.47 356.6L72.83 362.12L66.11 362.12Z"/>
<path d="M70.01 356.39L73.37 361.91L66.65 361.91Z"/>
<path d="M70.55 356.22L73.91 361.74L67.19 361.74Z"/>
<path d="M71.08 356.05L74.44 361.57L67.72 361.57Z"/>
<path d="M71.62 355.89L74.98 361.41L68.26 361.41Z"/>
<path d="M72.16 355.74L75.52 361.26L68.8 361.26Z"/>
<path d="M72.69 355.59L76.05 361.11L69.33 361.11Z"/>
<path d="M73.23 355.45L76.59 360.97L69.87 360.97Z"/>
<path d="M73.76 355.31L77.12 360.83L70.4 360.83Z"/>
<path d="M74.3 355.19L77.66 360.71L70.94 360.71Z"/>
<path d="M74.84 355.07L78.2 360.59L71.48 360.59Z"/>
<path d="M75.37 354.96L78.73 360.48L72.01 360.48Z"/>
<path d="M75.91 354.86L79.27 360.38L72.55 360.38Z"/>
<path d="M76.45 354.77L79.81 360.29L73.09 360.29Z"/>
<path d="M76.98 354.69L80.34 360.21L73.62 360.21Z"/>
<path d="M77.52 354.62L80.88 360.14L74.16 360.14Z"/>
<path d="M78.06 354.56L81.42 360.08L74.7 360.08Z"/>
<path d="M78.59 354.51L81.95 360.03L75.23 360.03Z"/>
<path d="M79.13 354.48L82.49 360L75.77 360Z"/>
<path d="M79.66 354.45L83.02 359.97L76.3 359.97Z"/>
<path d="M80.2 354.42L83.56 359.94L76.84 359.94Z"/>
<path d="M80.74 354.4L84.1 359.92L77.38 359.92Z"/>
<path d="M81.27 354.37L84.63 359.89L77.91 359.89Z"/>
<path d="M81.81 354.35L85.17 359.87L78.45 359.87Z"/>
<path d="M82.34 354.34L85.7 359.86L78.98 359.86Z"/>
<path d="M82.88 354.33L86.24 359.85L79.52 359.85Z"/>
<path d="M83.42 354.32L86.78 359.84L80.06 359.84Z"/>
<path d="M83.95 354.32L87.31 359.84L80.59 359.84Z"/>
<path d="M84.49 354.32L87.85 359.84L81.13 359.84Z"/>
<path d="M85.03 354.32L88.39 359.84L81.67 359.84Z"/>
<path d="M85.56 354.32L88.92 359.84L82.2 359.84Z"/>
<path d="M86.1 354.32L89.46 359.84L82.74 359.84Z"/>
<path d="M86.63 354.32L89.99 359.84L83.27 359.84Z"/>
<path d="M87.17 354.32L90.53 359.84L83.81 359.84Z"/>
<path d="M87.71 354.32L91.07 359.84L84.35 359.84Z"/>
<path d="M88.24 354.32L91.6 359.84L84.88 359.84Z"/>
<path d="M88.78 354.32L92.14 359.84L85.42 359.84Z"/>
<path d="M89.32 354.32L92.68 359.84L85.96 359.84Z"/>
<path d="M89.85 354.32L93.21 359.84L86.49 359.84Z"/>
<path d="M90.39 354.32L93.75 359.84L87.03 359.84Z"/>
<path d="M90.92 354.32L94.28 359.84L87.56 359.84Z"/>
</g>
<g fill="none" stroke="#1f6fe0" stroke-width="1.1">
<path d="M94.5 354.32L97.86 359.84L91.14 359.84Z"/>
<path d="M98.08 354.32L101.44 359.84L94.72 359.84Z"/>
<path d="M101.65 354.32L105.01 359.84L98.29 359.84Z"/>
<path d="M105.22 354.32L108.58 359.84L101.86 359.84Z"/>
<path d="M108.8 354.32L112.16 359.84L105.44 359.84Z"/>
<path d="M112.38 354.32L115.73 359.84L109.02 359.84Z"/>
<path d="M115.95 354.32L119.31 359.84L112.59 359.84Z"/>
<path d="M119.53 354.32L122.89 359.84L116.17 359.84Z"/>
<path d="M123.1 354.32L126.46 359.84L119.74 359.84Z"/>
<path d="M126.67 354.32L130.03 359.84L123.31 359.84Z"/>
<path d="M130.25 354.32L133.61 359.84L126.89 359.84Z"/>
<path d="M133.82 354.32L137.19 359.84L130.46 359.84Z"/>
<path d="M137.4 354.32L140.76 359.84L134.04 359.84Z"/>
<path d="M140.98 354.32L144.34 359.84L137.62 359.84Z"/>
<path d="M144.55 354.32L147.91 359.84L141.19 359.84Z"/>
<path d="M162.43 354.32L165.79 359.84L159.06 359.84Z"/>
<path d="M180.3 354.32L183.66 359.84L176.94 359.84Z"/>
<path d="M198.18 354.32L201.54 359.84L194.81 359.84Z"/>
<path d="M216.05 354.32L219.41 359.84L212.69 359.84Z"/>
</g>
<g fill="none" stroke="#2fa35f" stroke-width="0.85">
<path d="M37.3 394.42L40.66 388.9L33.94 388.9Z"/>
<path d="M37.84 394.12L41.2 388.6L34.48 388.6Z"/>
<path d="M38.37 393.81L41.73 388.29L35.01 388.29Z"/>
<path d="M38.91 393.51L42.27 387.99L35.55 387.99Z"/>
<path d="M39.45 393.2L42.8 387.68L36.09 387.68Z"/>
<path d="M39.98 392.88L43.34 387.36L36.62 387.36Z"/>
<path d="M40.52 392.57L43.88 387.05L37.16 387.05Z"/>
<path d="M41.05 392.25L44.41 386.73L37.69 386.73Z"/>
<path d="M41.59 391.93L44.95 386.41L38.23 386.41Z"/>
<path d="M42.13 391.61L45.49 386.09L38.77 386.09Z"/>
<path d="M42.66 391.28L46.02 385.76L39.3 385.76Z"/>
<path d="M43.2 390.96L46.56 385.44L39.84 385.44Z"/>
<path d="M43.73 390.63L47.09 385.11L40.38 385.11Z"/>
<path d="M44.27 390.3L47.63 384.78L40.91 384.78Z"/>
<path d="M44.81 389.97L48.17 384.45L41.45 384.45Z"/>
<path d="M45.34 389.63L48.7 384.11L41.98 384.11Z"/>
<path d="M45.88 389.3L49.24 383.78L42.52 383.78Z"/>
<path d="M46.42 388.96L49.78 383.44L43.06 383.44Z"/>
<path d="M46.95 388.62L50.31 383.1L43.59 383.1Z"/>
<path d="M47.49 388.28L50.85 382.76L44.13 382.76Z"/>
<path d="M48.02 387.93L51.38 382.41L44.66 382.41Z"/>
<path d="M48.56 387.59L51.92 382.07L45.2 382.07Z"/>
<path d="M49.1 387.24L52.46 381.72L45.74 381.72Z"/>
<path d="M49.63 386.89L52.99 381.37L46.27 381.37Z"/>
<path d="M50.17 386.54L53.53 381.02L46.81 381.02Z"/>
<path d="M50.71 386.19L54.07 380.67L47.35 380.67Z"/>
<path d="M51.24 385.84L54.6 380.32L47.88 380.32Z"/>
<path d="M51.78 385.48L55.14 379.96L48.42 379.96Z"/>
<path d="M52.31 385.13L55.67 379.61L48.95 379.61Z"/>
<path d="M52.85 384.77L56.21 379.25L49.49 379.25Z"/>
<path d="M53.39 384.4L56.75 378.88L50.03 378.88Z"/>
<path d="M53.92 384.03L57.28 378.51L50.56 378.51Z"/>
<path d="M54.46 383.65L57.82 378.13L51.1 378.13Z"/>
<path d="M55 383.26L58.36 377.74L51.64 377.74Z"/>
<path d="M55.53 382.86L58.89 377.34L52.17 377.34Z"/>
<path d="M56.07 382.47L59.43 376.95L52.71 376.95Z"/>
<path d="M56.6 382.07L59.96 376.55L53.24 376.55Z"/>
<path d="M57.14 381.67L60.5 376.15L53.78 376.15Z"/>
<path d="M57.68 381.28L61.04 375.76L54.32 375.76Z"/>
<path d="M58.21 380.88L61.57 375.36L54.85 375.36Z"/>
<path d="M58.75 380.5L62.11 374.98L55.39 374.98Z"/>
<path d="M59.29 380.11L62.65 374.59L55.93 374.59Z"/>
<path d="M59.82 379.74L63.18 374.22L56.46 374.22Z"/>
<path d="M60.36 379.38L63.72 373.86L57 373.86Z"/>
<path d="M60.89 379.03L64.25 373.51L57.53 373.51Z"/>
<path d="M61.43 378.69L64.79 373.17L58.07 373.17Z"/>
<path d="M61.97 378.35L65.33 372.83L58.61 372.83Z"/>
<path d="M62.5 378L65.86 372.48L59.14 372.48Z"/>
<path d="M63.04 377.65L66.4 372.13L59.68 372.13Z"/>
<path d="M63.58 377.31L66.94 371.79L60.22 371.79Z"/>
<path d="M64.11 376.96L67.47 371.44L60.75 371.44Z"/>
<path d="M64.65 376.62L68.01 371.1L61.29 371.1Z"/>
<path d="M65.19 376.28L68.55 370.76L61.83 370.76Z"/>
<path d="M65.72 375.95L69.08 370.43L62.36 370.43Z"/>
<path d="M66.26 375.64L69.62 370.12L62.9 370.12Z"/>
<path d="M66.79 375.33L70.15 369.81L63.43 369.81Z"/>
<path d="M67.33 375.03L70.69 369.51L63.97 369.51Z"/>
<path d="M67.87 374.76L71.23 369.24L64.51 369.24Z"/>
<path d="M68.4 374.49L71.76 368.97L65.04 368.97Z"/>
<path d="M68.94 374.25L72.3 368.73L65.58 368.73Z"/>
<path d="M69.47 374.03L72.83 368.51L66.11 368.51Z"/>
<path d="M70.01 373.83L73.37 368.31L66.65 368.31Z"/>
<path d="M70.55 373.65L73.91 368.13L67.19 368.13Z"/>
<path d="M71.08 373.48L74.44 367.96L67.72 367.96Z"/>
<path d="M71.62 373.31L74.98 367.79L68.26 367.79Z"/>
<path d="M72.16 373.14L75.52 367.62L68.8 367.62Z"/>
<path d="M72.69 372.98L76.05 367.46L69.33 367.46Z"/>
<path d="M73.23 372.83L76.59 367.31L69.87 367.31Z"/>
<path d="M73.76 372.68L77.12 367.16L70.4 367.16Z"/>
<path d="M74.3 372.54L77.66 367.02L70.94 367.02Z"/>
<path d="M74.84 372.4L78.2 366.88L71.48 366.88Z"/>
<path d="M75.37 372.28L78.73 366.76L72.01 366.76Z"/>
<path d="M75.91 372.16L79.27 366.64L72.55 366.64Z"/>
<path d="M76.45 372.05L79.81 366.53L73.09 366.53Z"/>
<path d="M76.98 371.95L80.34 366.43L73.62 366.43Z"/>
<path d="M77.52 371.86L80.88 366.34L74.16 366.34Z"/>
<path d="M78.06 371.78L81.42 366.26L74.7 366.26Z"/>
<path d="M78.59 371.71L81.95 366.19L75.23 366.19Z"/>
<path d="M79.13 371.65L82.49 366.13L75.77 366.13Z"/>
<path d="M79.66 371.6L83.02 366.08L76.3 366.08Z"/>
<path d="M80.2 371.54L83.56 366.02L76.84 366.02Z"/>
<path d="M80.74 371.49L84.1 365.97L77.38 365.97Z"/>
<path d="M81.27 371.44L84.63 365.92L77.91 365.92Z"/>
<path d="M81.81 371.4L85.17 365.88L78.45 365.88Z"/>
<path d="M82.34 371.35L85.7 365.83L78.98 365.83Z"/>
<path d="M82.88 371.31L86.24 365.79L79.52 365.79Z"/>
<path d="M83.42 371.27L86.78 365.75L80.06 365.75Z"/>
<path d="M83.95 371.23L87.31 365.71L80.59 365.71Z"/>
<path d="M84.49 371.2L87.85 365.68L81.13 365.68Z"/>
<path d="M85.03 371.18L88.39 365.66L81.67 365.66Z"/>
<path d="M85.56 371.15L88.92 365.63L82.2 365.63Z"/>
<path d="M86.1 371.14L89.46 365.62L82.74 365.62Z"/>
<path d="M86.63 371.13L89.99 365.61L83.27 365.61Z"/>
<path d="M87.17 371.12L90.53 365.6L83.81 365.6Z"/>
<path d="M87.71 371.12L91.07 365.6L84.35 365.6Z"/>
<path d="M88.24 371.12L91.6 365.6L84.88 365.6Z"/>
<path d="M88.78 371.12L92.14 365.6L85.42 365.6Z"/>
<path d="M89.32 371.12L92.68 365.6L85.96 365.6Z"/>
<path d="M89.85 371.12L93.21 365.6L86.49 365.6Z"/>
<path d="M90.39 371.12L93.75 365.6L87.03 365.6Z"/>
<path d="M90.92 371.12L94.28 365.6L87.56 365.6Z"/>
</g>
<g fill="none" stroke="#2fa35f" stroke-width="1.1">
<path d="M94.5 371.12L97.86 365.6L91.14 365.6Z"/>
<path d="M98.08 371.12L101.44 365.6L94.72 365.6Z"/>
<path d="M101.65 371.12L105.01 365.6L98.29 365.6Z"/>
<path d="M105.22 371.12L108.58 365.6L101.86 365.6Z"/>
<path d="M108.8 371.12L112.16 365.6L105.44 365.6Z"/>
<path d="M112.38 371.12L115.73 365.6L109.02 365.6Z"/>
<path d="M115.95 371.12L119.31 365.6L112.59 365.6Z"/>
<path d="M119.53 371.12L122.89 365.6L116.17 365.6Z"/>
<path d="M123.1 371.12L126.46 365.6L119.74 365.6Z"/>
<path d="M126.67 371.12L130.03 365.6L123.31 365.6Z"/>
<path d="M130.25 371.12L133.61 365.6L126.89 365.6Z"/>
<path d="M133.82 371.12L137.19 365.6L130.46 365.6Z"/>
<path d="M137.4 371.12L140.76 365.6L134.04 365.6Z"/>
<path d="M140.98 371.12L144.34 365.6L137.62 365.6Z"/>
<path d="M144.55 371.12L147.91 365.6L141.19 365.6Z"/>
<path d="M162.43 371.12L165.79 365.6L159.06 365.6Z"/>
<path d="M180.3 371.12L183.66 365.6L176.94 365.6Z"/>
<path d="M198.18 371.12L201.54 365.6L194.81 365.6Z"/>
<path d="M216.05 371.12L219.41 365.6L212.69 365.6Z"/>
</g>
<polyline fill="none" stroke="#4a4a4a" stroke-width="1.4" stroke-linejoin="round" points="37.3,391 38.19,386.63 39.09,382.33 39.98,378.08 40.88,373.89 41.77,369.76 42.66,365.69 43.56,361.68 44.45,357.72 45.34,353.82 46.24,349.97 47.13,346.18 48.02,342.45 48.92,338.77 49.81,335.14 50.71,331.57 51.6,328.06 52.49,324.61 53.39,321.22 54.28,317.9 55.17,314.65 56.07,311.48 56.96,308.38 57.86,305.32 58.75,302.28 59.64,299.31 60.54,296.48 61.43,293.84 62.33,291.44 63.22,289.23 64.11,287.14 65.01,285.15 65.9,283.26 66.79,281.47 67.69,279.76 68.58,278.14 69.47,276.61 70.37,275.12 71.26,273.66 72.16,272.25 73.05,270.9 73.94,269.64 74.84,268.49 75.73,267.45 76.62,266.54 77.52,265.73 78.41,264.95 79.31,264.2 80.2,263.5 81.09,262.85 81.99,262.25 82.88,261.73 83.78,261.27 84.67,260.9 85.56,260.61 86.46,260.34 87.35,260.08 88.24,259.83 89.14,259.6 90.03,259.4 90.92,259.22 91.82,259.08 92.71,258.96 93.61,258.89 94.5,258.86 95.39,258.86 96.29,258.85 97.18,258.85 98.08,258.84 98.97,258.84 99.86,258.83 100.76,258.83 101.65,258.82 102.54,258.82 103.44,258.81 104.33,258.81 105.22,258.81 106.12,258.8 107.01,258.8 107.91,258.79 108.8,258.79 109.69,258.78 110.59,258.78 111.48,258.78 112.38,258.77 113.27,258.77 114.16,258.76 115.06,258.76 115.95,258.76 116.84,258.75 117.74,258.75 118.63,258.74 119.53,258.74 120.42,258.74 121.31,258.73 122.21,258.73 123.1,258.73 123.99,258.72 124.89,258.72 125.78,258.72 126.67,258.71 127.57,258.71 128.46,258.71 129.36,258.71 130.25,258.7 131.14,258.7 132.04,258.7 132.93,258.69 133.82,258.69 134.72,258.69 135.61,258.69 136.51,258.68 137.4,258.68 138.29,258.68 139.19,258.68 140.08,258.67 140.98,258.67 141.87,258.67 142.76,258.67 143.66,258.67 144.55,258.66 145.44,258.66 146.34,258.66 147.23,258.66 148.12,258.66 149.02,258.65 149.91,258.65 150.81,258.65 151.7,258.65 152.59,258.65 153.49,258.64 154.38,258.64 155.28,258.64 156.17,258.64 157.06,258.64 157.96,258.64 158.85,258.64 159.74,258.63 160.64,258.63 161.53,258.63 162.43,258.63 163.32,258.63 164.21,258.63 165.11,258.63 166,258.63 166.89,258.62 167.79,258.62 168.68,258.62 169.57,258.62 170.47,258.62 171.36,258.62 172.26,258.62 173.15,258.62 174.04,258.62 174.94,258.62 175.83,258.61 176.73,258.61 177.62,258.61 178.51,258.61 179.41,258.61 180.3,258.61 181.19,258.61 182.09,258.61 182.98,258.61 183.88,258.61 184.77,258.61 185.66,258.61 186.56,258.61 187.45,258.61 188.34,258.61 189.24,258.61 190.13,258.6 191.02,258.6 191.92,258.6 192.81,258.6 193.71,258.6 194.6,258.6 195.49,258.6 196.39,258.6 197.28,258.6 198.18,258.6 199.07,258.6 199.96,258.6 200.86,258.6 201.75,258.6 202.64,258.6 203.54,258.6 204.43,258.6 205.32,258.6 206.22,258.6 207.11,258.6 208.01,258.6 208.9,258.6 209.79,258.6 210.69,258.6 211.58,258.6 212.48,258.6 213.37,258.6 214.26,258.6 215.16,258.6 216.05,258.6"/>
<polyline fill="none" stroke="#ef3d3d" stroke-width="1.4" stroke-linejoin="round" points="37.3,391 38.19,389.15 39.09,387.33 39.98,385.55 40.88,383.79 41.77,382.06 42.66,380.36 43.56,378.68 44.45,377.04 45.34,375.42 46.24,373.83 47.13,372.27 48.02,370.74 48.92,369.23 49.81,367.75 50.71,366.3 51.6,364.87 52.49,363.47 53.39,362.09 54.28,360.71 55.17,359.35 56.07,358.01 56.96,356.71 57.86,355.46 58.75,354.27 59.64,353.15 60.54,352.11 61.43,351.17 62.33,350.29 63.22,349.44 64.11,348.63 65.01,347.85 65.9,347.12 66.79,346.42 67.69,345.77 68.58,345.15 69.47,344.58 70.37,344.04 71.26,343.52 72.16,343.03 73.05,342.59 73.94,342.24 74.84,342 75.73,341.79 76.62,341.6 77.52,341.43 78.41,341.28 79.31,341.17 80.2,341.09 81.09,341.05 81.99,341.03 82.88,341.01 83.78,340.99 84.67,340.97 85.56,340.96 86.46,340.96 87.35,340.95 88.24,340.95 89.14,340.95 90.03,340.95 90.92,340.95 91.82,340.95 92.71,340.95 93.61,340.95 94.5,340.95 95.39,340.95 96.29,340.95 97.18,340.95 98.08,340.95 98.97,340.95 99.86,340.95 100.76,340.95 101.65,340.95 102.54,340.95 103.44,340.95 104.33,340.95 105.22,340.95 106.12,340.95 107.01,340.95 107.91,340.95 108.8,340.95 109.69,340.95 110.59,340.95 111.48,340.95 112.38,340.95 113.27,340.95 114.16,340.95 115.06,340.95 115.95,340.95 116.84,340.95 117.74,340.95 118.63,340.95 119.53,340.95 120.42,340.95 121.31,340.95 122.21,340.95 123.1,340.95 123.99,340.95 124.89,340.95 125.78,340.95 126.67,340.95 127.57,340.95 128.46,340.95 129.36,340.95 130.25,340.95 131.14,340.95 132.04,340.95 132.93,340.95 133.82,340.95 134.72,340.95 135.61,340.95 136.51,340.95 137.4,340.95 138.29,340.95 139.19,340.95 140.08,340.95 140.98,340.95 141.87,340.95 142.76,340.95 143.66,340.95 144.55,340.95 145.44,340.95 146.34,340.95 147.23,340.95 148.12,340.95 149.02,340.95 149.91,340.95 150.81,340.95 151.7,340.95 152.59,340.95 153.49,340.95 154.38,340.95 155.28,340.95 156.17,340.95 157.06,340.95 157.96,340.95 158.85,340.95 159.74,340.95 160.64,340.95 161.53,340.95 162.43,340.95 163.32,340.95 164.21,340.95 165.11,340.95 166,340.95 166.89,340.95 167.79,340.95 168.68,340.95 169.57,340.95 170.47,340.95 171.36,340.95 172.26,340.95 173.15,340.95 174.04,340.95 174.94,340.95 175.83,340.95 176.73,340.95 177.62,340.95 178.51,340.95 179.41,340.95 180.3,340.95 181.19,340.95 182.09,340.95 182.98,340.95 183.88,340.95 184.77,340.95 185.66,340.95 186.56,340.95 187.45,340.95 188.34,340.95 189.24,340.95 190.13,340.95 191.02,340.95 191.92,340.95 192.81,340.95 193.71,340.95 194.6,340.95 195.49,340.95 196.39,340.95 197.28,340.95 198.18,340.95 199.07,340.95 199.96,340.95 200.86,340.95 201.75,340.95 202.64,340.95 203.54,340.95 204.43,340.95 205.32,340.95 206.22,340.95 207.11,340.95 208.01,340.95 208.9,340.95 209.79,340.95 210.69,340.95 211.58,340.95 212.48,340.95 213.37,340.95 214.26,340.95 215.16,340.95 216.05,340.95"/>
<polyline fill="none" stroke="#1f6fe0" stroke-width="1.4" stroke-linejoin="round" points="37.3,391 38.19,390.12 39.09,389.25 39.98,388.37 40.88,387.5 41.77,386.63 42.66,385.77 43.56,384.91 44.45,384.05 45.34,383.19 46.24,382.33 47.13,381.48 48.02,380.63 48.92,379.78 49.81,378.93 50.71,378.09 51.6,377.25 52.49,376.41 53.39,375.56 54.28,374.7 55.17,373.83 56.07,372.96 56.96,372.09 57.86,371.25 58.75,370.43 59.64,369.64 60.54,368.89 61.43,368.19 62.33,367.5 63.22,366.8 64.11,366.1 65.01,365.43 65.9,364.78 66.79,364.18 67.69,363.64 68.58,363.17 69.47,362.78 70.37,362.49 71.26,362.24 72.16,362 73.05,361.78 73.94,361.57 74.84,361.39 75.73,361.23 76.62,361.09 77.52,360.98 78.41,360.9 79.31,360.84 80.2,360.8 81.09,360.76 81.99,360.73 82.88,360.71 83.78,360.71 84.67,360.71 85.56,360.71 86.46,360.71 87.35,360.71 88.24,360.71 89.14,360.71 90.03,360.71 90.92,360.71 91.82,360.71 92.71,360.71 93.61,360.71 94.5,360.71 95.39,360.71 96.29,360.71 97.18,360.71 98.08,360.71 98.97,360.71 99.86,360.71 100.76,360.71 101.65,360.71 102.54,360.71 103.44,360.71 104.33,360.71 105.22,360.71 106.12,360.71 107.01,360.71 107.91,360.71 108.8,360.71 109.69,360.71 110.59,360.71 111.48,360.71 112.38,360.71 113.27,360.71 114.16,360.71 115.06,360.71 115.95,360.71 116.84,360.71 117.74,360.71 118.63,360.71 119.53,360.71 120.42,360.71 121.31,360.71 122.21,360.71 123.1,360.71 123.99,360.71 124.89,360.71 125.78,360.71 126.67,360.71 127.57,360.71 128.46,360.71 129.36,360.71 130.25,360.71 131.14,360.71 132.04,360.71 132.93,360.71 133.82,360.71 134.72,360.71 135.61,360.71 136.51,360.71 137.4,360.71 138.29,360.71 139.19,360.71 140.08,360.71 140.98,360.71 141.87,360.71 142.76,360.71 143.66,360.71 144.55,360.71 145.44,360.71 146.34,360.71 147.23,360.71 148.12,360.71 149.02,360.71 149.91,360.71 150.81,360.71 151.7,360.71 152.59,360.71 153.49,360.71 154.38,360.71 155.28,360.71 156.17,360.71 157.06,360.71 157.96,360.71 158.85,360.71 159.74,360.71 160.64,360.71 161.53,360.71 162.43,360.71 163.32,360.71 164.21,360.71 165.11,360.71 166,360.71 166.89,360.71 167.79,360.71 168.68,360.71 169.57,360.71 170.47,360.71 171.36,360.71 172.26,360.71 173.15,360.71 174.04,360.71 174.94,360.71 175.83,360.71 176.73,360.71 177.62,360.71 178.51,360.71 179.41,360.71 180.3,360.71 181.19,360.71 182.09,360.71 182.98,360.71 183.88,360.71 184.77,360.71 185.66,360.71 186.56,360.71 187.45,360.71 188.34,360.71 189.24,360.71 190.13,360.71 191.02,360.71 191.92,360.71 192.81,360.71 193.71,360.71 194.6,360.71 195.49,360.71 196.39,360.71 197.28,360.71 198.18,360.71 199.07,360.71 199.96,360.71 200.86,360.71 201.75,360.71 202.64,360.71 203.54,360.71 204.43,360.71 205.32,360.71 206.22,360.71 207.11,360.71 208.01,360.71 208.9,360.71 209.79,360.71 210.69,360.71 211.58,360.71 212.48,360.71 213.37,360.71 214.26,360.71 215.16,360.71 216.05,360.71"/>
<polyline fill="none" stroke="#2fa35f" stroke-width="1.4" stroke-linejoin="round" points="37.3,391 38.19,390.42 39.09,389.84 39.98,389.25 40.88,388.65 41.77,388.05 42.66,387.43 43.56,386.81 44.45,386.19 45.34,385.56 46.24,384.92 47.13,384.27 48.02,383.62 48.92,382.97 49.81,382.31 50.71,381.65 51.6,380.98 52.49,380.3 53.39,379.62 54.28,378.9 55.17,378.16 56.07,377.41 56.96,376.66 57.86,375.91 58.75,375.17 59.64,374.46 60.54,373.77 61.43,373.12 62.33,372.47 63.22,371.81 64.11,371.16 65.01,370.51 65.9,369.89 66.79,369.3 67.69,368.75 68.58,368.26 69.47,367.82 70.37,367.46 71.26,367.13 72.16,366.82 73.05,366.52 73.94,366.24 74.84,365.98 75.73,365.75 76.62,365.54 77.52,365.36 78.41,365.21 79.31,365.1 80.2,365 81.09,364.91 81.99,364.82 82.88,364.73 83.78,364.66 84.67,364.6 85.56,364.56 86.46,364.53 87.35,364.52 88.24,364.52 89.14,364.52 90.03,364.52 90.92,364.52 91.82,364.52 92.71,364.52 93.61,364.52 94.5,364.52 95.39,364.52 96.29,364.52 97.18,364.52 98.08,364.52 98.97,364.52 99.86,364.52 100.76,364.52 101.65,364.52 102.54,364.52 103.44,364.52 104.33,364.52 105.22,364.52 106.12,364.52 107.01,364.52 107.91,364.52 108.8,364.52 109.69,364.52 110.59,364.52 111.48,364.52 112.38,364.52 113.27,364.52 114.16,364.52 115.06,364.52 115.95,364.52 116.84,364.52 117.74,364.52 118.63,364.52 119.53,364.52 120.42,364.52 121.31,364.52 122.21,364.52 123.1,364.52 123.99,364.52 124.89,364.52 125.78,364.52 126.67,364.52 127.57,364.52 128.46,364.52 129.36,364.52 130.25,364.52 131.14,364.52 132.04,364.52 132.93,364.52 133.82,364.52 134.72,364.52 135.61,364.52 136.51,364.52 137.4,364.52 138.29,364.52 139.19,364.52 140.08,364.52 140.98,364.52 141.87,364.52 142.76,364.52 143.66,364.52 144.55,364.52 145.44,364.52 146.34,364.52 147.23,364.52 148.12,364.52 149.02,364.52 149.91,364.52 150.81,364.52 151.7,364.52 152.59,364.52 153.49,364.52 154.38,364.52 155.28,364.52 156.17,364.52 157.06,364.52 157.96,364.52 158.85,364.52 159.74,364.52 160.64,364.52 161.53,364.52 162.43,364.52 163.32,364.52 164.21,364.52 165.11,364.52 166,364.52 166.89,364.52 167.79,364.52 168.68,364.52 169.57,364.52 170.47,364.52 171.36,364.52 172.26,364.52 173.15,364.52 174.04,364.52 174.94,364.52 175.83,364.52 176.73,364.52 177.62,364.52 178.51,364.52 179.41,364.52 180.3,364.52 181.19,364.52 182.09,364.52 182.98,364.52 183.88,364.52 184.77,364.52 185.66,364.52 186.56,364.52 187.45,364.52 188.34,364.52 189.24,364.52 190.13,364.52 191.02,364.52 191.92,364.52 192.81,364.52 193.71,364.52 194.6,364.52 195.49,364.52 196.39,364.52 197.28,364.52 198.18,364.52 199.07,364.52 199.96,364.52 200.86,364.52 201.75,364.52 202.64,364.52 203.54,364.52 204.43,364.52 205.32,364.52 206.22,364.52 207.11,364.52 208.01,364.52 208.9,364.52 209.79,364.52 210.69,364.52 211.58,364.52 212.48,364.52 213.37,364.52 214.26,364.52 215.16,364.52 216.05,364.52"/>
</g>
<line x1="37.3" y1="391" x2="37.3" y2="388.3" stroke="#000" stroke-width="1.8"/>
<line x1="73.05" y1="391" x2="73.05" y2="388.3" stroke="#000" stroke-width="1.8"/>
<line x1="108.8" y1="391" x2="108.8" y2="388.3" stroke="#000" stroke-width="1.8"/>
<line x1="144.55" y1="391" x2="144.55" y2="388.3" stroke="#000" stroke-width="1.8"/>
<line x1="180.3" y1="391" x2="180.3" y2="388.3" stroke="#000" stroke-width="1.8"/>
<line x1="216.05" y1="391" x2="216.05" y2="388.3" stroke="#000" stroke-width="1.8"/>
<line x1="55.17" y1="391" x2="55.17" y2="388.9" stroke="#000" stroke-width="1.2"/>
<line x1="90.92" y1="391" x2="90.92" y2="388.9" stroke="#000" stroke-width="1.2"/>
<line x1="126.67" y1="391" x2="126.67" y2="388.9" stroke="#000" stroke-width="1.2"/>
<line x1="162.43" y1="391" x2="162.43" y2="388.9" stroke="#000" stroke-width="1.2"/>
<line x1="198.18" y1="391" x2="198.18" y2="388.9" stroke="#000" stroke-width="1.2"/>
<line x1="37.5" y1="391" x2="40.2" y2="391" stroke="#000" stroke-width="1.8"/>
<line x1="37.5" y1="364.52" x2="40.2" y2="364.52" stroke="#000" stroke-width="1.8"/>
<line x1="37.5" y1="338.04" x2="40.2" y2="338.04" stroke="#000" stroke-width="1.8"/>
<line x1="37.5" y1="311.56" x2="40.2" y2="311.56" stroke="#000" stroke-width="1.8"/>
<line x1="37.5" y1="285.08" x2="40.2" y2="285.08" stroke="#000" stroke-width="1.8"/>
<line x1="37.5" y1="258.6" x2="40.2" y2="258.6" stroke="#000" stroke-width="1.8"/>
<rect x="37.5" y="245.2" width="196.8" height="145.8" fill="none" stroke="#000" stroke-width="2.6"/>
<text x="37.3" y="403.3" font-size="11.8" text-anchor="middle" font-weight="bold" font-style="normal">0</text>
<text x="73.05" y="403.3" font-size="11.8" text-anchor="middle" font-weight="bold" font-style="normal">10</text>
<text x="108.8" y="403.3" font-size="11.8" text-anchor="middle" font-weight="bold" font-style="normal">20</text>
<text x="144.55" y="403.3" font-size="11.8" text-anchor="middle" font-weight="bold" font-style="normal">30</text>
<text x="180.3" y="403.3" font-size="11.8" text-anchor="middle" font-weight="bold" font-style="normal">40</text>
<text x="216.05" y="403.3" font-size="11.8" text-anchor="middle" font-weight="bold" font-style="normal">50</text>
<text x="34.3" y="394.9" font-size="11.8" text-anchor="end" font-weight="bold" font-style="normal">0.0</text>
<text x="34.3" y="368.42" font-size="11.8" text-anchor="end" font-weight="bold" font-style="normal">5.0</text>
<text x="34.3" y="341.94" font-size="11.8" text-anchor="end" font-weight="bold" font-style="normal">10.0</text>
<text x="34.3" y="315.46" font-size="11.8" text-anchor="end" font-weight="bold" font-style="normal">15.0</text>
<text x="34.3" y="288.98" font-size="11.8" text-anchor="end" font-weight="bold" font-style="normal">20.0</text>
<text x="34.3" y="262.5" font-size="11.8" text-anchor="end" font-weight="bold" font-style="normal">25.0</text>
<text x="167.8" y="272.9" font-size="10" text-anchor="start" font-weight="bold"><tspan font-style="italic">L</tspan><tspan font-style="italic" font-size="7.3" dy="2.6">offset</tspan><tspan dy="-2.6"> (μm)</tspan></text>
<g fill="none" stroke="#4a4a4a" stroke-width="1.2">
<circle cx="151" cy="281" r="3.42"/>
</g>
<g fill="none" stroke="#ef3d3d" stroke-width="1.2">
<rect x="191.81" y="277.81" width="6.38" height="6.38"/>
</g>
<g fill="none" stroke="#1f6fe0" stroke-width="1.2">
<path d="M151 287.16L155.26 294.16L146.74 294.16Z"/>
</g>
<g fill="none" stroke="#2fa35f" stroke-width="1.2">
<path d="M195 295.84L199.26 288.84L190.74 288.84Z"/>
</g>
<line x1="138.6" y1="302.3" x2="163" y2="302.3" stroke="#4a4a4a" stroke-width="1.8"/>
<line x1="182.7" y1="302.3" x2="206.6" y2="302.3" stroke="#ef3d3d" stroke-width="1.8"/>
<line x1="138.6" y1="312.2" x2="163" y2="312.2" stroke="#1f6fe0" stroke-width="1.8"/>
<line x1="182.7" y1="312.2" x2="206.6" y2="312.2" stroke="#2fa35f" stroke-width="1.8"/>
<text x="173.2" y="284.5" font-size="10.2" text-anchor="middle" font-weight="bold" font-style="normal">5</text>
<text x="217.2" y="284.5" font-size="10.2" text-anchor="middle" font-weight="bold" font-style="normal">10</text>
<text x="173.2" y="295" font-size="10.2" text-anchor="middle" font-weight="bold" font-style="normal">15</text>
<text x="217.2" y="295" font-size="10.2" text-anchor="middle" font-weight="bold" font-style="normal">20</text>
<text x="173.2" y="305.8" font-size="10.2" text-anchor="middle" font-weight="bold" font-style="normal">2</text>
<text x="217.2" y="305.8" font-size="10.2" text-anchor="middle" font-weight="bold" font-style="normal">8</text>
<text x="173.2" y="315.7" font-size="10.2" text-anchor="middle" font-weight="bold" font-style="normal">18</text>
<text x="217.2" y="315.7" font-size="10.2" text-anchor="middle" font-weight="bold" font-style="normal">23</text>
<rect x="72.3" y="279.2" width="63" height="34.8" rx="5" ry="5" fill="#dadada"/>
<line x1="74" y1="291.5" x2="89" y2="291.5" stroke="#111" stroke-width="2"/>
<text transform="translate(84.9 305.5) scale(1 1.1)" font-size="13.8" text-anchor="middle" font-weight="bold">D</text>
<line x1="89.7" y1="300.3" x2="104.3" y2="300.3" stroke="#111" stroke-width="2"/>
<text transform="translate(99.8 314) scale(1 1.1)" font-size="13.8" text-anchor="middle" font-weight="bold">G</text>
<line x1="104.6" y1="295.5" x2="111.5" y2="295.5" stroke="#111" stroke-width="2"/>
<text transform="translate(110.4 309.4) scale(1 1.1)" font-size="13.8" text-anchor="middle" font-weight="bold">O</text>
<line x1="112.3" y1="291.5" x2="127.5" y2="291.5" stroke="#111" stroke-width="2"/>
<text transform="translate(121.1 305.5) scale(1 1.1)" font-size="13.8" text-anchor="middle" font-weight="bold">S</text>
<line x1="128.9" y1="295.5" x2="128.9" y2="297.2" stroke="#000" stroke-width="1.9"/>
<line x1="128.9" y1="303.5" x2="128.9" y2="310.8" stroke="#000" stroke-width="1.9"/>
<line x1="128.9" y1="281.86" x2="128.9" y2="288.06" stroke="#000" stroke-width="1.27"/>
<path d="M124.63 285.82 A5.35 2.29 0 1 0 134.06 287.06" fill="none" stroke="#000" stroke-width="0.94"/>
<path d="M130 285.6 L133.83 283.73 L133.58 286.79 Z" fill="#000"/>
<text transform="translate(319.5 318) rotate(-90)" font-size="11.6" text-anchor="middle" font-weight="bold">I<tspan font-size="7.89" dy="2.2">D</tspan><tspan dy="-2.2">(μA)</tspan></text>
<text x="444.5" y="415.3" font-size="11.6" text-anchor="middle" font-weight="bold">V<tspan font-size="7.89" dy="2.2">D</tspan><tspan dy="-2.2">(V)</tspan></text>
<clipPath id="clip_pd"><rect x="346" y="245" width="196.9" height="146"/></clipPath>
<g clip-path="url(#clip_pd)">
<g fill="none" stroke="#4a4a4a" stroke-width="1">
<circle cx="345.8" cy="391" r="2.76"/>
<circle cx="347.59" cy="372.07" r="2.76"/>
<circle cx="349.38" cy="362.75" r="2.76"/>
<circle cx="351.16" cy="356.32" r="2.76"/>
<circle cx="352.95" cy="350.46" r="2.76"/>
<circle cx="354.74" cy="345.05" r="2.76"/>
<circle cx="356.53" cy="339.79" r="2.76"/>
<circle cx="358.31" cy="334.16" r="2.76"/>
<circle cx="360.1" cy="328.38" r="2.76"/>
<circle cx="361.89" cy="322.64" r="2.76"/>
<circle cx="363.68" cy="316.84" r="2.76"/>
<circle cx="365.46" cy="311.19" r="2.76"/>
<circle cx="367.25" cy="306.16" r="2.76"/>
<circle cx="369.04" cy="301.55" r="2.76"/>
<circle cx="370.82" cy="297.3" r="2.76"/>
<circle cx="372.61" cy="293.46" r="2.76"/>
<circle cx="374.4" cy="290.04" r="2.76"/>
<circle cx="376.19" cy="286.95" r="2.76"/>
<circle cx="377.98" cy="284.14" r="2.76"/>
<circle cx="379.76" cy="281.53" r="2.76"/>
<circle cx="381.55" cy="279.15" r="2.76"/>
<circle cx="383.34" cy="277.04" r="2.76"/>
<circle cx="385.12" cy="275.1" r="2.76"/>
<circle cx="386.91" cy="273.35" r="2.76"/>
<circle cx="388.7" cy="271.87" r="2.76"/>
<circle cx="390.49" cy="270.58" r="2.76"/>
<circle cx="392.28" cy="269.45" r="2.76"/>
<circle cx="394.06" cy="268.51" r="2.76"/>
<circle cx="395.85" cy="267.74" r="2.76"/>
<circle cx="397.64" cy="267.07" r="2.76"/>
<circle cx="399.43" cy="266.48" r="2.76"/>
<circle cx="401.21" cy="265.95" r="2.76"/>
<circle cx="403" cy="265.47" r="2.76"/>
<circle cx="404.79" cy="265.02" r="2.76"/>
<circle cx="406.58" cy="264.61" r="2.76"/>
<circle cx="408.36" cy="264.25" r="2.76"/>
<circle cx="410.15" cy="263.95" r="2.76"/>
<circle cx="411.94" cy="263.7" r="2.76"/>
<circle cx="413.73" cy="263.45" r="2.76"/>
<circle cx="415.51" cy="263.22" r="2.76"/>
<circle cx="417.3" cy="263.04" r="2.76"/>
<circle cx="419.09" cy="262.92" r="2.76"/>
<circle cx="420.88" cy="262.88" r="2.76"/>
<circle cx="422.66" cy="262.86" r="2.76"/>
<circle cx="424.45" cy="262.84" r="2.76"/>
<circle cx="426.24" cy="262.83" r="2.76"/>
<circle cx="428.03" cy="262.81" r="2.76"/>
<circle cx="429.81" cy="262.8" r="2.76"/>
<circle cx="431.6" cy="262.78" r="2.76"/>
<circle cx="433.39" cy="262.77" r="2.76"/>
<circle cx="435.18" cy="262.76" r="2.76"/>
<circle cx="436.96" cy="262.74" r="2.76"/>
<circle cx="438.75" cy="262.73" r="2.76"/>
<circle cx="440.54" cy="262.72" r="2.76"/>
<circle cx="442.33" cy="262.7" r="2.76"/>
<circle cx="444.11" cy="262.69" r="2.76"/>
<circle cx="445.9" cy="262.68" r="2.76"/>
<circle cx="447.69" cy="262.67" r="2.76"/>
<circle cx="449.48" cy="262.66" r="2.76"/>
<circle cx="451.26" cy="262.65" r="2.76"/>
<circle cx="453.05" cy="262.64" r="2.76"/>
</g>
<g fill="none" stroke="#4a4a4a" stroke-width="1.1">
<circle cx="470.93" cy="262.57" r="2.76"/>
<circle cx="488.8" cy="262.52" r="2.76"/>
<circle cx="506.68" cy="262.5" r="2.76"/>
<circle cx="524.55" cy="262.49" r="2.76"/>
</g>
<g fill="none" stroke="#ef3d3d" stroke-width="0.85">
<rect x="343.28" y="388.48" width="5.04" height="5.04"/>
<rect x="345.07" y="385.03" width="5.04" height="5.04"/>
<rect x="346.86" y="381.28" width="5.04" height="5.04"/>
<rect x="348.64" y="377.29" width="5.04" height="5.04"/>
<rect x="350.43" y="373.08" width="5.04" height="5.04"/>
<rect x="352.22" y="368.69" width="5.04" height="5.04"/>
<rect x="354.01" y="364.13" width="5.04" height="5.04"/>
<rect x="355.79" y="358.96" width="5.04" height="5.04"/>
<rect x="357.58" y="353.81" width="5.04" height="5.04"/>
<rect x="359.37" y="349.34" width="5.04" height="5.04"/>
<rect x="361.16" y="345.19" width="5.04" height="5.04"/>
<rect x="362.94" y="341.4" width="5.04" height="5.04"/>
<rect x="364.73" y="337.94" width="5.04" height="5.04"/>
<rect x="366.52" y="334.71" width="5.04" height="5.04"/>
<rect x="368.31" y="331.72" width="5.04" height="5.04"/>
<rect x="370.09" y="329" width="5.04" height="5.04"/>
<rect x="371.88" y="326.52" width="5.04" height="5.04"/>
<rect x="373.67" y="324.19" width="5.04" height="5.04"/>
<rect x="375.46" y="322.11" width="5.04" height="5.04"/>
<rect x="377.24" y="320.4" width="5.04" height="5.04"/>
<rect x="379.03" y="318.95" width="5.04" height="5.04"/>
<rect x="380.82" y="317.65" width="5.04" height="5.04"/>
<rect x="382.61" y="316.58" width="5.04" height="5.04"/>
<rect x="384.39" y="315.81" width="5.04" height="5.04"/>
<rect x="386.18" y="315.24" width="5.04" height="5.04"/>
<rect x="387.97" y="314.73" width="5.04" height="5.04"/>
<rect x="389.76" y="314.32" width="5.04" height="5.04"/>
<rect x="391.54" y="314.02" width="5.04" height="5.04"/>
<rect x="393.33" y="313.86" width="5.04" height="5.04"/>
<rect x="395.12" y="313.79" width="5.04" height="5.04"/>
<rect x="396.91" y="313.73" width="5.04" height="5.04"/>
<rect x="398.69" y="313.67" width="5.04" height="5.04"/>
<rect x="400.48" y="313.61" width="5.04" height="5.04"/>
<rect x="402.27" y="313.56" width="5.04" height="5.04"/>
<rect x="404.06" y="313.51" width="5.04" height="5.04"/>
<rect x="405.84" y="313.46" width="5.04" height="5.04"/>
<rect x="407.63" y="313.41" width="5.04" height="5.04"/>
<rect x="409.42" y="313.37" width="5.04" height="5.04"/>
<rect x="411.21" y="313.34" width="5.04" height="5.04"/>
<rect x="412.99" y="313.3" width="5.04" height="5.04"/>
<rect x="414.78" y="313.27" width="5.04" height="5.04"/>
<rect x="416.57" y="313.24" width="5.04" height="5.04"/>
<rect x="418.36" y="313.21" width="5.04" height="5.04"/>
<rect x="420.14" y="313.18" width="5.04" height="5.04"/>
<rect x="421.93" y="313.16" width="5.04" height="5.04"/>
<rect x="423.72" y="313.14" width="5.04" height="5.04"/>
<rect x="425.51" y="313.12" width="5.04" height="5.04"/>
<rect x="427.29" y="313.1" width="5.04" height="5.04"/>
<rect x="429.08" y="313.08" width="5.04" height="5.04"/>
<rect x="430.87" y="313.06" width="5.04" height="5.04"/>
<rect x="432.66" y="313.04" width="5.04" height="5.04"/>
<rect x="434.44" y="313.03" width="5.04" height="5.04"/>
<rect x="436.23" y="313.01" width="5.04" height="5.04"/>
<rect x="438.02" y="313" width="5.04" height="5.04"/>
<rect x="439.81" y="312.98" width="5.04" height="5.04"/>
<rect x="441.59" y="312.97" width="5.04" height="5.04"/>
<rect x="443.38" y="312.95" width="5.04" height="5.04"/>
<rect x="445.17" y="312.94" width="5.04" height="5.04"/>
<rect x="446.96" y="312.92" width="5.04" height="5.04"/>
<rect x="448.74" y="312.9" width="5.04" height="5.04"/>
<rect x="450.53" y="312.89" width="5.04" height="5.04"/>
</g>
<g fill="none" stroke="#ef3d3d" stroke-width="1.1">
<rect x="468.41" y="312.71" width="5.04" height="5.04"/>
<rect x="486.28" y="312.56" width="5.04" height="5.04"/>
<rect x="504.16" y="312.45" width="5.04" height="5.04"/>
<rect x="522.03" y="312.4" width="5.04" height="5.04"/>
</g>
<g fill="none" stroke="#1f6fe0" stroke-width="0.85">
<path d="M345.8 387.58L349.16 393.1L342.44 393.1Z"/>
<path d="M346.34 386.7L349.7 392.22L342.98 392.22Z"/>
<path d="M346.87 385.82L350.23 391.34L343.51 391.34Z"/>
<path d="M347.41 384.94L350.77 390.46L344.05 390.46Z"/>
<path d="M347.94 384.05L351.31 389.57L344.58 389.57Z"/>
<path d="M348.48 383.17L351.84 388.69L345.12 388.69Z"/>
<path d="M349.02 382.27L352.38 387.79L345.66 387.79Z"/>
<path d="M349.55 381.38L352.91 386.9L346.19 386.9Z"/>
<path d="M350.09 380.48L353.45 386L346.73 386Z"/>
<path d="M350.63 379.59L353.99 385.11L347.27 385.11Z"/>
<path d="M351.16 378.68L354.52 384.2L347.8 384.2Z"/>
<path d="M351.7 377.78L355.06 383.3L348.34 383.3Z"/>
<path d="M352.24 376.87L355.6 382.39L348.88 382.39Z"/>
<path d="M352.77 375.97L356.13 381.49L349.41 381.49Z"/>
<path d="M353.31 375.06L356.67 380.58L349.95 380.58Z"/>
<path d="M353.84 374.14L357.2 379.66L350.48 379.66Z"/>
<path d="M354.38 373.23L357.74 378.75L351.02 378.75Z"/>
<path d="M354.92 372.31L358.28 377.83L351.56 377.83Z"/>
<path d="M355.45 371.39L358.81 376.91L352.09 376.91Z"/>
<path d="M355.99 370.47L359.35 375.99L352.63 375.99Z"/>
<path d="M356.53 369.54L359.89 375.06L353.17 375.06Z"/>
<path d="M357.06 368.62L360.42 374.14L353.7 374.14Z"/>
<path d="M357.6 367.69L360.96 373.21L354.24 373.21Z"/>
<path d="M358.13 366.76L361.49 372.28L354.77 372.28Z"/>
<path d="M358.67 365.83L362.03 371.35L355.31 371.35Z"/>
<path d="M359.21 364.89L362.57 370.41L355.85 370.41Z"/>
<path d="M359.74 363.96L363.1 369.48L356.38 369.48Z"/>
<path d="M360.28 363.02L363.64 368.54L356.92 368.54Z"/>
<path d="M360.81 362.07L364.18 367.59L357.45 367.59Z"/>
<path d="M361.35 361.09L364.71 366.61L357.99 366.61Z"/>
<path d="M361.89 360.08L365.25 365.6L358.53 365.6Z"/>
<path d="M362.42 359.05L365.78 364.57L359.06 364.57Z"/>
<path d="M362.96 358L366.32 363.52L359.6 363.52Z"/>
<path d="M363.5 356.95L366.86 362.47L360.14 362.47Z"/>
<path d="M364.03 355.89L367.39 361.41L360.67 361.41Z"/>
<path d="M364.57 354.84L367.93 360.36L361.21 360.36Z"/>
<path d="M365.11 353.79L368.47 359.31L361.75 359.31Z"/>
<path d="M365.64 352.77L369 358.29L362.28 358.29Z"/>
<path d="M366.18 351.76L369.54 357.28L362.82 357.28Z"/>
<path d="M366.71 350.79L370.07 356.31L363.35 356.31Z"/>
<path d="M367.25 349.86L370.61 355.38L363.89 355.38Z"/>
<path d="M367.79 348.96L371.15 354.48L364.43 354.48Z"/>
<path d="M368.32 348.12L371.68 353.64L364.96 353.64Z"/>
<path d="M368.86 347.33L372.22 352.85L365.5 352.85Z"/>
<path d="M369.39 346.61L372.75 352.13L366.03 352.13Z"/>
<path d="M369.93 345.93L373.29 351.45L366.57 351.45Z"/>
<path d="M370.47 345.26L373.83 350.78L367.11 350.78Z"/>
<path d="M371 344.61L374.36 350.13L367.64 350.13Z"/>
<path d="M371.54 343.98L374.9 349.5L368.18 349.5Z"/>
<path d="M372.08 343.37L375.44 348.89L368.72 348.89Z"/>
<path d="M372.61 342.77L375.97 348.29L369.25 348.29Z"/>
<path d="M373.15 342.19L376.51 347.71L369.79 347.71Z"/>
<path d="M373.69 341.64L377.05 347.16L370.32 347.16Z"/>
<path d="M374.22 341.1L377.58 346.62L370.86 346.62Z"/>
<path d="M374.76 340.58L378.12 346.1L371.4 346.1Z"/>
<path d="M375.29 340.09L378.65 345.61L371.93 345.61Z"/>
<path d="M375.83 339.61L379.19 345.13L372.47 345.13Z"/>
<path d="M376.37 339.16L379.73 344.68L373.01 344.68Z"/>
<path d="M376.9 338.74L380.26 344.26L373.54 344.26Z"/>
<path d="M377.44 338.33L380.8 343.85L374.08 343.85Z"/>
<path d="M377.98 337.95L381.34 343.47L374.62 343.47Z"/>
<path d="M378.51 337.59L381.87 343.11L375.15 343.11Z"/>
<path d="M379.05 337.24L382.41 342.76L375.69 342.76Z"/>
<path d="M379.58 336.9L382.94 342.42L376.22 342.42Z"/>
<path d="M380.12 336.56L383.48 342.08L376.76 342.08Z"/>
<path d="M380.66 336.24L384.02 341.76L377.3 341.76Z"/>
<path d="M381.19 335.92L384.55 341.44L377.83 341.44Z"/>
<path d="M381.73 335.61L385.09 341.13L378.37 341.13Z"/>
<path d="M382.26 335.32L385.62 340.84L378.9 340.84Z"/>
<path d="M382.8 335.04L386.16 340.56L379.44 340.56Z"/>
<path d="M383.34 334.77L386.7 340.29L379.98 340.29Z"/>
<path d="M383.87 334.52L387.23 340.04L380.51 340.04Z"/>
<path d="M384.41 334.29L387.77 339.81L381.05 339.81Z"/>
<path d="M384.95 334.07L388.31 339.59L381.59 339.59Z"/>
<path d="M385.48 333.87L388.84 339.39L382.12 339.39Z"/>
<path d="M386.02 333.69L389.38 339.21L382.66 339.21Z"/>
<path d="M386.56 333.54L389.92 339.06L383.19 339.06Z"/>
<path d="M387.09 333.4L390.45 338.92L383.73 338.92Z"/>
<path d="M387.63 333.27L390.99 338.79L384.27 338.79Z"/>
<path d="M388.16 333.14L391.52 338.66L384.8 338.66Z"/>
<path d="M388.7 333.01L392.06 338.53L385.34 338.53Z"/>
<path d="M389.24 332.88L392.6 338.4L385.88 338.4Z"/>
<path d="M389.77 332.76L393.13 338.28L386.41 338.28Z"/>
<path d="M390.31 332.65L393.67 338.17L386.95 338.17Z"/>
<path d="M390.85 332.54L394.21 338.06L387.49 338.06Z"/>
<path d="M391.38 332.44L394.74 337.96L388.02 337.96Z"/>
<path d="M391.92 332.34L395.28 337.86L388.56 337.86Z"/>
<path d="M392.45 332.26L395.81 337.78L389.09 337.78Z"/>
<path d="M392.99 332.18L396.35 337.7L389.63 337.7Z"/>
<path d="M393.53 332.12L396.89 337.64L390.17 337.64Z"/>
<path d="M394.06 332.06L397.42 337.58L390.7 337.58Z"/>
<path d="M394.6 332.02L397.96 337.54L391.24 337.54Z"/>
<path d="M395.13 331.99L398.5 337.51L391.77 337.51Z"/>
<path d="M395.67 331.98L399.03 337.5L392.31 337.5Z"/>
<path d="M396.21 331.98L399.57 337.5L392.85 337.5Z"/>
<path d="M396.74 331.98L400.1 337.5L393.38 337.5Z"/>
<path d="M397.28 331.98L400.64 337.5L393.92 337.5Z"/>
<path d="M397.82 331.98L401.18 337.5L394.46 337.5Z"/>
<path d="M398.35 331.97L401.71 337.49L394.99 337.49Z"/>
<path d="M398.89 331.97L402.25 337.49L395.53 337.49Z"/>
<path d="M399.43 331.97L402.79 337.49L396.06 337.49Z"/>
</g>
<g fill="none" stroke="#1f6fe0" stroke-width="1.1">
<path d="M403 331.97L406.36 337.49L399.64 337.49Z"/>
<path d="M406.58 331.96L409.94 337.48L403.22 337.48Z"/>
<path d="M410.15 331.95L413.51 337.47L406.79 337.47Z"/>
<path d="M413.73 331.95L417.09 337.47L410.37 337.47Z"/>
<path d="M417.3 331.94L420.66 337.46L413.94 337.46Z"/>
<path d="M420.88 331.94L424.24 337.46L417.51 337.46Z"/>
<path d="M424.45 331.93L427.81 337.45L421.09 337.45Z"/>
<path d="M428.03 331.93L431.39 337.45L424.67 337.45Z"/>
<path d="M431.6 331.92L434.96 337.44L428.24 337.44Z"/>
<path d="M435.18 331.92L438.54 337.44L431.81 337.44Z"/>
<path d="M438.75 331.91L442.11 337.43L435.39 337.43Z"/>
<path d="M442.33 331.91L445.69 337.43L438.97 337.43Z"/>
<path d="M445.9 331.91L449.26 337.43L442.54 337.43Z"/>
<path d="M449.48 331.9L452.84 337.42L446.12 337.42Z"/>
<path d="M453.05 331.9L456.41 337.42L449.69 337.42Z"/>
<path d="M470.93 331.89L474.29 337.41L467.56 337.41Z"/>
<path d="M488.8 331.89L492.16 337.41L485.44 337.41Z"/>
<path d="M506.68 331.88L510.04 337.4L503.31 337.4Z"/>
<path d="M524.55 331.88L527.91 337.4L521.19 337.4Z"/>
</g>
<g fill="none" stroke="#2fa35f" stroke-width="0.85">
<path d="M345.8 394.42L349.16 388.9L342.44 388.9Z"/>
<path d="M346.34 393.86L349.7 388.34L342.98 388.34Z"/>
<path d="M346.87 393.29L350.23 387.77L343.51 387.77Z"/>
<path d="M347.41 392.71L350.77 387.19L344.05 387.19Z"/>
<path d="M347.94 392.13L351.31 386.61L344.58 386.61Z"/>
<path d="M348.48 391.54L351.84 386.02L345.12 386.02Z"/>
<path d="M349.02 390.94L352.38 385.42L345.66 385.42Z"/>
<path d="M349.55 390.33L352.91 384.81L346.19 384.81Z"/>
<path d="M350.09 389.72L353.45 384.2L346.73 384.2Z"/>
<path d="M350.63 389.11L353.99 383.59L347.27 383.59Z"/>
<path d="M351.16 388.48L354.52 382.96L347.8 382.96Z"/>
<path d="M351.7 387.86L355.06 382.34L348.34 382.34Z"/>
<path d="M352.24 387.22L355.6 381.7L348.88 381.7Z"/>
<path d="M352.77 386.58L356.13 381.06L349.41 381.06Z"/>
<path d="M353.31 385.93L356.67 380.41L349.95 380.41Z"/>
<path d="M353.84 385.28L357.2 379.76L350.48 379.76Z"/>
<path d="M354.38 384.63L357.74 379.11L351.02 379.11Z"/>
<path d="M354.92 383.97L358.28 378.45L351.56 378.45Z"/>
<path d="M355.45 383.3L358.81 377.78L352.09 377.78Z"/>
<path d="M355.99 382.63L359.35 377.11L352.63 377.11Z"/>
<path d="M356.53 381.95L359.89 376.43L353.17 376.43Z"/>
<path d="M357.06 381.27L360.42 375.75L353.7 375.75Z"/>
<path d="M357.6 380.59L360.96 375.07L354.24 375.07Z"/>
<path d="M358.13 379.9L361.49 374.38L354.77 374.38Z"/>
<path d="M358.67 379.2L362.03 373.68L355.31 373.68Z"/>
<path d="M359.21 378.51L362.57 372.99L355.85 372.99Z"/>
<path d="M359.74 377.81L363.1 372.29L356.38 372.29Z"/>
<path d="M360.28 377.1L363.64 371.58L356.92 371.58Z"/>
<path d="M360.81 376.39L364.18 370.87L357.45 370.87Z"/>
<path d="M361.35 375.64L364.71 370.12L357.99 370.12Z"/>
<path d="M361.89 374.86L365.25 369.34L358.53 369.34Z"/>
<path d="M362.42 374.06L365.78 368.54L359.06 368.54Z"/>
<path d="M362.96 373.25L366.32 367.73L359.6 367.73Z"/>
<path d="M363.5 372.42L366.86 366.9L360.14 366.9Z"/>
<path d="M364.03 371.58L367.39 366.06L360.67 366.06Z"/>
<path d="M364.57 370.74L367.93 365.22L361.21 365.22Z"/>
<path d="M365.11 369.9L368.47 364.38L361.75 364.38Z"/>
<path d="M365.64 369.08L369 363.56L362.28 363.56Z"/>
<path d="M366.18 368.26L369.54 362.74L362.82 362.74Z"/>
<path d="M366.71 367.46L370.07 361.94L363.35 361.94Z"/>
<path d="M367.25 366.69L370.61 361.17L363.89 361.17Z"/>
<path d="M367.79 365.95L371.15 360.43L364.43 360.43Z"/>
<path d="M368.32 365.24L371.68 359.72L364.96 359.72Z"/>
<path d="M368.86 364.57L372.22 359.05L365.5 359.05Z"/>
<path d="M369.39 363.94L372.75 358.42L366.03 358.42Z"/>
<path d="M369.93 363.34L373.29 357.82L366.57 357.82Z"/>
<path d="M370.47 362.75L373.83 357.23L367.11 357.23Z"/>
<path d="M371 362.16L374.36 356.64L367.64 356.64Z"/>
<path d="M371.54 361.58L374.9 356.06L368.18 356.06Z"/>
<path d="M372.08 361.02L375.44 355.5L368.72 355.5Z"/>
<path d="M372.61 360.46L375.97 354.94L369.25 354.94Z"/>
<path d="M373.15 359.93L376.51 354.41L369.79 354.41Z"/>
<path d="M373.69 359.4L377.05 353.88L370.32 353.88Z"/>
<path d="M374.22 358.9L377.58 353.38L370.86 353.38Z"/>
<path d="M374.76 358.41L378.12 352.89L371.4 352.89Z"/>
<path d="M375.29 357.95L378.65 352.43L371.93 352.43Z"/>
<path d="M375.83 357.5L379.19 351.98L372.47 351.98Z"/>
<path d="M376.37 357.09L379.73 351.57L373.01 351.57Z"/>
<path d="M376.9 356.7L380.26 351.18L373.54 351.18Z"/>
<path d="M377.44 356.33L380.8 350.81L374.08 350.81Z"/>
<path d="M377.98 356L381.34 350.48L374.62 350.48Z"/>
<path d="M378.51 355.69L381.87 350.17L375.15 350.17Z"/>
<path d="M379.05 355.39L382.41 349.87L375.69 349.87Z"/>
<path d="M379.58 355.1L382.94 349.58L376.22 349.58Z"/>
<path d="M380.12 354.82L383.48 349.3L376.76 349.3Z"/>
<path d="M380.66 354.54L384.02 349.02L377.3 349.02Z"/>
<path d="M381.19 354.28L384.55 348.76L377.83 348.76Z"/>
<path d="M381.73 354.02L385.09 348.5L378.37 348.5Z"/>
<path d="M382.26 353.78L385.62 348.26L378.9 348.26Z"/>
<path d="M382.8 353.55L386.16 348.03L379.44 348.03Z"/>
<path d="M383.34 353.33L386.7 347.81L379.98 347.81Z"/>
<path d="M383.87 353.12L387.23 347.6L380.51 347.6Z"/>
<path d="M384.41 352.93L387.77 347.41L381.05 347.41Z"/>
<path d="M384.95 352.75L388.31 347.23L381.59 347.23Z"/>
<path d="M385.48 352.59L388.84 347.07L382.12 347.07Z"/>
<path d="M386.02 352.44L389.38 346.92L382.66 346.92Z"/>
<path d="M386.56 352.31L389.92 346.79L383.19 346.79Z"/>
<path d="M387.09 352.2L390.45 346.68L383.73 346.68Z"/>
<path d="M387.63 352.09L390.99 346.57L384.27 346.57Z"/>
<path d="M388.16 351.98L391.52 346.46L384.8 346.46Z"/>
<path d="M388.7 351.87L392.06 346.35L385.34 346.35Z"/>
<path d="M389.24 351.77L392.6 346.25L385.88 346.25Z"/>
<path d="M389.77 351.67L393.13 346.15L386.41 346.15Z"/>
<path d="M390.31 351.57L393.67 346.05L386.95 346.05Z"/>
<path d="M390.85 351.48L394.21 345.96L387.49 345.96Z"/>
<path d="M391.38 351.4L394.74 345.88L388.02 345.88Z"/>
<path d="M391.92 351.32L395.28 345.8L388.56 345.8Z"/>
<path d="M392.45 351.25L395.81 345.73L389.09 345.73Z"/>
<path d="M392.99 351.18L396.35 345.66L389.63 345.66Z"/>
<path d="M393.53 351.13L396.89 345.61L390.17 345.61Z"/>
<path d="M394.06 351.08L397.42 345.56L390.7 345.56Z"/>
<path d="M394.6 351.05L397.96 345.53L391.24 345.53Z"/>
<path d="M395.13 351.03L398.5 345.51L391.77 345.51Z"/>
<path d="M395.67 351.02L399.03 345.5L392.31 345.5Z"/>
<path d="M396.21 351.02L399.57 345.5L392.85 345.5Z"/>
<path d="M396.74 351.02L400.1 345.5L393.38 345.5Z"/>
<path d="M397.28 351.02L400.64 345.5L393.92 345.5Z"/>
<path d="M397.82 351.02L401.18 345.5L394.46 345.5Z"/>
<path d="M398.35 351.02L401.71 345.5L394.99 345.5Z"/>
<path d="M398.89 351.02L402.25 345.5L395.53 345.5Z"/>
<path d="M399.43 351.02L402.79 345.5L396.06 345.5Z"/>
</g>
<g fill="none" stroke="#2fa35f" stroke-width="1.1">
<path d="M403 351.02L406.36 345.5L399.64 345.5Z"/>
<path d="M406.58 351.02L409.94 345.5L403.22 345.5Z"/>
<path d="M410.15 351.02L413.51 345.5L406.79 345.5Z"/>
<path d="M413.73 351.02L417.09 345.5L410.37 345.5Z"/>
<path d="M417.3 351.02L420.66 345.5L413.94 345.5Z"/>
<path d="M420.88 351.02L424.24 345.5L417.51 345.5Z"/>
<path d="M424.45 351.02L427.81 345.5L421.09 345.5Z"/>
<path d="M428.03 351.02L431.39 345.5L424.67 345.5Z"/>
<path d="M431.6 351.02L434.96 345.5L428.24 345.5Z"/>
<path d="M435.18 351.02L438.54 345.5L431.81 345.5Z"/>
<path d="M438.75 351.02L442.11 345.5L435.39 345.5Z"/>
<path d="M442.33 351.02L445.69 345.5L438.97 345.5Z"/>
<path d="M445.9 351.02L449.26 345.5L442.54 345.5Z"/>
<path d="M449.48 351.02L452.84 345.5L446.12 345.5Z"/>
<path d="M453.05 351.02L456.41 345.5L449.69 345.5Z"/>
<path d="M470.93 351.02L474.29 345.5L467.56 345.5Z"/>
<path d="M488.8 351.02L492.16 345.5L485.44 345.5Z"/>
<path d="M506.68 351.02L510.04 345.5L503.31 345.5Z"/>
<path d="M524.55 351.02L527.91 345.5L521.19 345.5Z"/>
</g>
<polyline fill="none" stroke="#4a4a4a" stroke-width="1.4" stroke-linejoin="round" points="345.8,391 346.69,387.61 347.59,384.25 348.48,380.91 349.38,377.6 350.27,374.31 351.16,371.04 352.06,367.8 352.95,364.58 353.84,361.39 354.74,358.21 355.63,355.05 356.53,351.91 357.42,348.79 358.31,345.68 359.21,342.61 360.1,339.58 360.99,336.58 361.89,333.64 362.78,330.74 363.68,327.87 364.57,325.02 365.46,322.21 366.36,319.44 367.25,316.73 368.14,314.08 369.04,311.5 369.93,308.97 370.82,306.45 371.72,304 372.61,301.64 373.51,299.41 374.4,297.36 375.29,295.44 376.19,293.6 377.08,291.83 377.98,290.14 378.87,288.53 379.76,287 380.66,285.55 381.55,284.19 382.44,282.89 383.34,281.63 384.23,280.42 385.12,279.27 386.02,278.19 386.91,277.17 387.81,276.25 388.7,275.42 389.59,274.64 390.49,273.9 391.38,273.2 392.28,272.54 393.17,271.94 394.06,271.4 394.96,270.93 395.85,270.54 396.74,270.2 397.64,269.88 398.53,269.58 399.43,269.31 400.32,269.07 401.21,268.87 402.11,268.71 403,268.59 403.89,268.49 404.79,268.4 405.68,268.32 406.58,268.25 407.47,268.19 408.36,268.14 409.26,268.11 410.15,268.1 411.04,268.1 411.94,268.1 412.83,268.1 413.73,268.1 414.62,268.1 415.51,268.1 416.41,268.1 417.3,268.1 418.19,268.1 419.09,268.1 419.98,268.1 420.88,268.1 421.77,268.1 422.66,268.1 423.56,268.1 424.45,268.1 425.34,268.1 426.24,268.1 427.13,268.1 428.03,268.1 428.92,268.1 429.81,268.1 430.71,268.1 431.6,268.1 432.49,268.1 433.39,268.1 434.28,268.1 435.18,268.1 436.07,268.1 436.96,268.1 437.86,268.1 438.75,268.1 439.64,268.1 440.54,268.1 441.43,268.1 442.33,268.1 443.22,268.1 444.11,268.1 445.01,268.1 445.9,268.1 446.79,268.1 447.69,268.1 448.58,268.1 449.48,268.1 450.37,268.1 451.26,268.1 452.16,268.1 453.05,268.1 453.94,268.1 454.84,268.1 455.73,268.1 456.62,268.1 457.52,268.1 458.41,268.1 459.31,268.1 460.2,268.1 461.09,268.1 461.99,268.1 462.88,268.1 463.78,268.1 464.67,268.1 465.56,268.1 466.46,268.1 467.35,268.1 468.24,268.1 469.14,268.1 470.03,268.1 470.93,268.1 471.82,268.1 472.71,268.1 473.61,268.1 474.5,268.1 475.39,268.1 476.29,268.1 477.18,268.1 478.08,268.1 478.97,268.1 479.86,268.1 480.76,268.1 481.65,268.1 482.54,268.1 483.44,268.1 484.33,268.1 485.23,268.1 486.12,268.1 487.01,268.1 487.91,268.1 488.8,268.1 489.69,268.1 490.59,268.1 491.48,268.1 492.38,268.1 493.27,268.1 494.16,268.1 495.06,268.1 495.95,268.1 496.84,268.1 497.74,268.1 498.63,268.1 499.52,268.1 500.42,268.1 501.31,268.1 502.21,268.1 503.1,268.1 503.99,268.1 504.89,268.1 505.78,268.1 506.68,268.1 507.57,268.1 508.46,268.1 509.36,268.1 510.25,268.1 511.14,268.1 512.04,268.1 512.93,268.1 513.83,268.1 514.72,268.1 515.61,268.1 516.51,268.1 517.4,268.1 518.29,268.1 519.19,268.1 520.08,268.1 520.98,268.1 521.87,268.1 522.76,268.1 523.66,268.1 524.55,268.1"/>
<polyline fill="none" stroke="#ef3d3d" stroke-width="1.4" stroke-linejoin="round" points="345.8,391 346.69,389.31 347.59,387.55 348.48,385.71 349.38,383.8 350.27,381.84 351.16,379.81 352.06,377.73 352.95,375.6 353.84,373.42 354.74,371.21 355.63,368.96 356.53,366.65 357.42,364.13 358.31,361.48 359.21,358.84 360.1,356.33 360.99,354.05 361.89,351.86 362.78,349.74 363.68,347.71 364.57,345.76 365.46,343.92 366.36,342.16 367.25,340.46 368.14,338.82 369.04,337.23 369.93,335.7 370.82,334.24 371.72,332.84 372.61,331.52 373.51,330.26 374.4,329.04 375.29,327.85 376.19,326.71 377.08,325.63 377.98,324.63 378.87,323.72 379.76,322.92 380.66,322.18 381.55,321.47 382.44,320.8 383.34,320.17 384.23,319.61 385.12,319.1 386.02,318.67 386.91,318.33 387.81,318.04 388.7,317.76 389.59,317.5 390.49,317.25 391.38,317.03 392.28,316.84 393.17,316.67 394.06,316.54 394.96,316.44 395.85,316.38 396.74,316.35 397.64,316.31 398.53,316.28 399.43,316.25 400.32,316.22 401.21,316.19 402.11,316.16 403,316.13 403.89,316.1 404.79,316.08 405.68,316.05 406.58,316.03 407.47,316 408.36,315.98 409.26,315.96 410.15,315.93 411.04,315.91 411.94,315.89 412.83,315.87 413.73,315.86 414.62,315.84 415.51,315.82 416.41,315.8 417.3,315.79 418.19,315.77 419.09,315.76 419.98,315.74 420.88,315.73 421.77,315.72 422.66,315.7 423.56,315.69 424.45,315.68 425.34,315.67 426.24,315.66 427.13,315.65 428.03,315.64 428.92,315.63 429.81,315.62 430.71,315.61 431.6,315.6 432.49,315.59 433.39,315.58 434.28,315.57 435.18,315.56 436.07,315.55 436.96,315.55 437.86,315.54 438.75,315.53 439.64,315.52 440.54,315.52 441.43,315.51 442.33,315.5 443.22,315.49 444.11,315.49 445.01,315.48 445.9,315.47 446.79,315.46 447.69,315.46 448.58,315.45 449.48,315.44 450.37,315.43 451.26,315.42 452.16,315.42 453.05,315.41 453.94,315.4 454.84,315.39 455.73,315.38 456.62,315.37 457.52,315.36 458.41,315.35 459.31,315.34 460.2,315.34 461.09,315.33 461.99,315.32 462.88,315.31 463.78,315.3 464.67,315.29 465.56,315.28 466.46,315.28 467.35,315.27 468.24,315.26 469.14,315.25 470.03,315.24 470.93,315.23 471.82,315.23 472.71,315.22 473.61,315.21 474.5,315.2 475.39,315.19 476.29,315.19 477.18,315.18 478.08,315.17 478.97,315.16 479.86,315.16 480.76,315.15 481.65,315.14 482.54,315.13 483.44,315.13 484.33,315.12 485.23,315.11 486.12,315.1 487.01,315.1 487.91,315.09 488.8,315.08 489.69,315.08 490.59,315.07 491.48,315.06 492.38,315.06 493.27,315.05 494.16,315.05 495.06,315.04 495.95,315.03 496.84,315.03 497.74,315.02 498.63,315.02 499.52,315.01 500.42,315.01 501.31,315 502.21,315 503.1,314.99 503.99,314.99 504.89,314.98 505.78,314.98 506.68,314.97 507.57,314.97 508.46,314.96 509.36,314.96 510.25,314.96 511.14,314.95 512.04,314.95 512.93,314.95 513.83,314.94 514.72,314.94 515.61,314.94 516.51,314.94 517.4,314.93 518.29,314.93 519.19,314.93 520.08,314.93 520.98,314.92 521.87,314.92 522.76,314.92 523.66,314.92 524.55,314.92"/>
<polyline fill="none" stroke="#1f6fe0" stroke-width="1.4" stroke-linejoin="round" points="345.8,391 346.69,389.59 347.59,388.17 348.48,386.74 349.38,385.31 350.27,383.87 351.16,382.42 352.06,380.96 352.95,379.5 353.84,378.04 354.74,376.56 355.63,375.08 356.53,373.6 357.42,372.11 358.31,370.61 359.21,369.11 360.1,367.6 360.99,366.08 361.89,364.47 362.78,362.8 363.68,361.1 364.57,359.41 365.46,357.74 366.36,356.13 367.25,354.6 368.14,353.19 369.04,351.93 369.93,350.81 370.82,349.75 371.72,348.73 372.61,347.76 373.51,346.85 374.4,345.98 375.29,345.18 376.19,344.43 377.08,343.74 377.98,343.12 378.87,342.54 379.76,341.99 380.66,341.46 381.55,340.96 382.44,340.48 383.34,340.05 384.23,339.65 385.12,339.3 386.02,339.01 386.91,338.76 387.81,338.55 388.7,338.35 389.59,338.15 390.49,337.96 391.38,337.79 392.28,337.65 393.17,337.53 394.06,337.43 394.96,337.37 395.85,337.35 396.74,337.35 397.64,337.35 398.53,337.35 399.43,337.35 400.32,337.34 401.21,337.34 402.11,337.34 403,337.34 403.89,337.34 404.79,337.34 405.68,337.33 406.58,337.33 407.47,337.33 408.36,337.33 409.26,337.33 410.15,337.33 411.04,337.33 411.94,337.32 412.83,337.32 413.73,337.32 414.62,337.32 415.51,337.32 416.41,337.32 417.3,337.32 418.19,337.31 419.09,337.31 419.98,337.31 420.88,337.31 421.77,337.31 422.66,337.31 423.56,337.31 424.45,337.31 425.34,337.3 426.24,337.3 427.13,337.3 428.03,337.3 428.92,337.3 429.81,337.3 430.71,337.3 431.6,337.3 432.49,337.3 433.39,337.3 434.28,337.29 435.18,337.29 436.07,337.29 436.96,337.29 437.86,337.29 438.75,337.29 439.64,337.29 440.54,337.29 441.43,337.29 442.33,337.29 443.22,337.29 444.11,337.28 445.01,337.28 445.9,337.28 446.79,337.28 447.69,337.28 448.58,337.28 449.48,337.28 450.37,337.28 451.26,337.28 452.16,337.28 453.05,337.28 453.94,337.28 454.84,337.28 455.73,337.28 456.62,337.28 457.52,337.27 458.41,337.27 459.31,337.27 460.2,337.27 461.09,337.27 461.99,337.27 462.88,337.27 463.78,337.27 464.67,337.27 465.56,337.27 466.46,337.27 467.35,337.27 468.24,337.27 469.14,337.27 470.03,337.27 470.93,337.27 471.82,337.27 472.71,337.27 473.61,337.27 474.5,337.27 475.39,337.27 476.29,337.27 477.18,337.27 478.08,337.26 478.97,337.26 479.86,337.26 480.76,337.26 481.65,337.26 482.54,337.26 483.44,337.26 484.33,337.26 485.23,337.26 486.12,337.26 487.01,337.26 487.91,337.26 488.8,337.26 489.69,337.26 490.59,337.26 491.48,337.26 492.38,337.26 493.27,337.26 494.16,337.26 495.06,337.26 495.95,337.26 496.84,337.26 497.74,337.26 498.63,337.26 499.52,337.26 500.42,337.26 501.31,337.26 502.21,337.26 503.1,337.26 503.99,337.26 504.89,337.26 505.78,337.26 506.68,337.26 507.57,337.26 508.46,337.26 509.36,337.26 510.25,337.26 511.14,337.26 512.04,337.26 512.93,337.26 513.83,337.26 514.72,337.26 515.61,337.26 516.51,337.26 517.4,337.26 518.29,337.26 519.19,337.26 520.08,337.26 520.98,337.26 521.87,337.26 522.76,337.26 523.66,337.26 524.55,337.26"/>
<polyline fill="none" stroke="#2fa35f" stroke-width="1.4" stroke-linejoin="round" points="345.8,391 346.69,389.96 347.59,388.9 348.48,387.82 349.38,386.72 350.27,385.6 351.16,384.46 352.06,383.3 352.95,382.13 353.84,380.94 354.74,379.73 355.63,378.51 356.53,377.27 357.42,376.02 358.31,374.75 359.21,373.48 360.1,372.19 360.99,370.87 361.89,369.46 362.78,367.98 363.68,366.46 364.57,364.92 365.46,363.39 366.36,361.9 367.25,360.46 368.14,359.12 369.04,357.89 369.93,356.78 370.82,355.69 371.72,354.63 372.61,353.61 373.51,352.63 374.4,351.7 375.29,350.84 376.19,350.04 377.08,349.32 377.98,348.69 378.87,348.13 379.76,347.59 380.66,347.09 381.55,346.61 382.44,346.16 383.34,345.75 384.23,345.38 385.12,345.06 386.02,344.78 386.91,344.55 387.81,344.35 388.7,344.15 389.59,343.96 390.49,343.78 391.38,343.62 392.28,343.48 393.17,343.37 394.06,343.28 394.96,343.22 395.85,343.21 396.74,343.21 397.64,343.21 398.53,343.21 399.43,343.21 400.32,343.21 401.21,343.21 402.11,343.21 403,343.21 403.89,343.21 404.79,343.21 405.68,343.21 406.58,343.21 407.47,343.21 408.36,343.21 409.26,343.21 410.15,343.21 411.04,343.21 411.94,343.21 412.83,343.21 413.73,343.21 414.62,343.21 415.51,343.21 416.41,343.21 417.3,343.21 418.19,343.21 419.09,343.21 419.98,343.21 420.88,343.21 421.77,343.21 422.66,343.21 423.56,343.21 424.45,343.21 425.34,343.21 426.24,343.21 427.13,343.21 428.03,343.21 428.92,343.21 429.81,343.21 430.71,343.21 431.6,343.21 432.49,343.21 433.39,343.21 434.28,343.21 435.18,343.21 436.07,343.21 436.96,343.21 437.86,343.21 438.75,343.21 439.64,343.21 440.54,343.21 441.43,343.21 442.33,343.21 443.22,343.21 444.11,343.21 445.01,343.21 445.9,343.21 446.79,343.21 447.69,343.21 448.58,343.21 449.48,343.21 450.37,343.21 451.26,343.21 452.16,343.21 453.05,343.21 453.94,343.21 454.84,343.21 455.73,343.21 456.62,343.21 457.52,343.21 458.41,343.21 459.31,343.21 460.2,343.21 461.09,343.21 461.99,343.21 462.88,343.21 463.78,343.21 464.67,343.21 465.56,343.21 466.46,343.21 467.35,343.21 468.24,343.21 469.14,343.21 470.03,343.21 470.93,343.21 471.82,343.21 472.71,343.21 473.61,343.21 474.5,343.21 475.39,343.21 476.29,343.21 477.18,343.21 478.08,343.21 478.97,343.21 479.86,343.21 480.76,343.21 481.65,343.21 482.54,343.21 483.44,343.21 484.33,343.21 485.23,343.21 486.12,343.21 487.01,343.21 487.91,343.21 488.8,343.21 489.69,343.21 490.59,343.21 491.48,343.21 492.38,343.21 493.27,343.21 494.16,343.21 495.06,343.21 495.95,343.21 496.84,343.21 497.74,343.21 498.63,343.21 499.52,343.21 500.42,343.21 501.31,343.21 502.21,343.21 503.1,343.21 503.99,343.21 504.89,343.21 505.78,343.21 506.68,343.21 507.57,343.21 508.46,343.21 509.36,343.21 510.25,343.21 511.14,343.21 512.04,343.21 512.93,343.21 513.83,343.21 514.72,343.21 515.61,343.21 516.51,343.21 517.4,343.21 518.29,343.21 519.19,343.21 520.08,343.21 520.98,343.21 521.87,343.21 522.76,343.21 523.66,343.21 524.55,343.21"/>
</g>
<line x1="345.8" y1="391" x2="345.8" y2="388.3" stroke="#000" stroke-width="1.8"/>
<line x1="381.55" y1="391" x2="381.55" y2="388.3" stroke="#000" stroke-width="1.8"/>
<line x1="417.3" y1="391" x2="417.3" y2="388.3" stroke="#000" stroke-width="1.8"/>
<line x1="453.05" y1="391" x2="453.05" y2="388.3" stroke="#000" stroke-width="1.8"/>
<line x1="488.8" y1="391" x2="488.8" y2="388.3" stroke="#000" stroke-width="1.8"/>
<line x1="524.55" y1="391" x2="524.55" y2="388.3" stroke="#000" stroke-width="1.8"/>
<line x1="363.68" y1="391" x2="363.68" y2="388.9" stroke="#000" stroke-width="1.2"/>
<line x1="399.43" y1="391" x2="399.43" y2="388.9" stroke="#000" stroke-width="1.2"/>
<line x1="435.18" y1="391" x2="435.18" y2="388.9" stroke="#000" stroke-width="1.2"/>
<line x1="470.93" y1="391" x2="470.93" y2="388.9" stroke="#000" stroke-width="1.2"/>
<line x1="506.68" y1="391" x2="506.68" y2="388.9" stroke="#000" stroke-width="1.2"/>
<line x1="346" y1="391" x2="348.7" y2="391" stroke="#000" stroke-width="1.8"/>
<line x1="346" y1="366.62" x2="348.7" y2="366.62" stroke="#000" stroke-width="1.8"/>
<line x1="346" y1="342.23" x2="348.7" y2="342.23" stroke="#000" stroke-width="1.8"/>
<line x1="346" y1="317.85" x2="348.7" y2="317.85" stroke="#000" stroke-width="1.8"/>
<line x1="346" y1="293.46" x2="348.7" y2="293.46" stroke="#000" stroke-width="1.8"/>
<line x1="346" y1="269.07" x2="348.7" y2="269.07" stroke="#000" stroke-width="1.8"/>
<line x1="346" y1="244.69" x2="348.7" y2="244.69" stroke="#000" stroke-width="1.8"/>
<rect x="346" y="245" width="196.9" height="146" fill="none" stroke="#000" stroke-width="2.6"/>
<text x="345.8" y="403.3" font-size="11.8" text-anchor="middle" font-weight="bold" font-style="normal">0</text>
<text x="381.55" y="403.3" font-size="11.8" text-anchor="middle" font-weight="bold" font-style="normal">10</text>
<text x="417.3" y="403.3" font-size="11.8" text-anchor="middle" font-weight="bold" font-style="normal">20</text>
<text x="453.05" y="403.3" font-size="11.8" text-anchor="middle" font-weight="bold" font-style="normal">30</text>
<text x="488.8" y="403.3" font-size="11.8" text-anchor="middle" font-weight="bold" font-style="normal">40</text>
<text x="524.55" y="403.3" font-size="11.8" text-anchor="middle" font-weight="bold" font-style="normal">50</text>
<text x="342.8" y="394.9" font-size="11.8" text-anchor="end" font-weight="bold" font-style="normal">0.0</text>
<text x="342.8" y="370.51" font-size="11.8" text-anchor="end" font-weight="bold" font-style="normal">5.0</text>
<text x="342.8" y="346.13" font-size="11.8" text-anchor="end" font-weight="bold" font-style="normal">10.0</text>
<text x="342.8" y="321.75" font-size="11.8" text-anchor="end" font-weight="bold" font-style="normal">15.0</text>
<text x="342.8" y="297.36" font-size="11.8" text-anchor="end" font-weight="bold" font-style="normal">20.0</text>
<text x="342.8" y="272.97" font-size="11.8" text-anchor="end" font-weight="bold" font-style="normal">25.0</text>
<text x="342.8" y="248.59" font-size="11.8" text-anchor="end" font-weight="bold" font-style="normal">30.0</text>
<text x="474.8" y="276" font-size="9.45" text-anchor="start" font-weight="bold"><tspan font-style="italic">L</tspan><tspan font-style="italic" font-size="6.9" dy="2.6">offset</tspan><tspan dy="-2.6"> (μm)</tspan></text>
<g fill="none" stroke="#4a4a4a" stroke-width="1.15">
<circle cx="459.5" cy="282.9" r="2.79"/>
</g>
<g fill="none" stroke="#ef3d3d" stroke-width="1.15">
<rect x="497.7" y="280.3" width="5.21" height="5.21"/>
</g>
<g fill="none" stroke="#1f6fe0" stroke-width="1.15">
<path d="M459.5 287.66L462.97 293.37L456.03 293.37Z"/>
</g>
<g fill="none" stroke="#2fa35f" stroke-width="1.15">
<path d="M500.3 294.74L503.77 289.03L496.83 289.03Z"/>
</g>
<line x1="448.5" y1="299.3" x2="470.8" y2="299.3" stroke="#4a4a4a" stroke-width="1.8"/>
<line x1="489.3" y1="299.3" x2="511.8" y2="299.3" stroke="#ef3d3d" stroke-width="1.8"/>
<line x1="448.5" y1="307.4" x2="470.8" y2="307.4" stroke="#1f6fe0" stroke-width="1.8"/>
<line x1="489.3" y1="307.4" x2="511.8" y2="307.4" stroke="#2fa35f" stroke-width="1.8"/>
<text x="480.4" y="286.3" font-size="10" text-anchor="middle" font-weight="bold" font-style="normal">5</text>
<text x="521.6" y="286.3" font-size="10" text-anchor="middle" font-weight="bold" font-style="normal">10</text>
<text x="480.4" y="294.6" font-size="10" text-anchor="middle" font-weight="bold" font-style="normal">15</text>
<text x="521.6" y="294.6" font-size="10" text-anchor="middle" font-weight="bold" font-style="normal">20</text>
<text x="480.4" y="302.7" font-size="10" text-anchor="middle" font-weight="bold" font-style="normal">2</text>
<text x="521.6" y="302.7" font-size="10" text-anchor="middle" font-weight="bold" font-style="normal">8</text>
<text x="480.4" y="310.8" font-size="10" text-anchor="middle" font-weight="bold" font-style="normal">18</text>
<text x="521.6" y="310.8" font-size="10" text-anchor="middle" font-weight="bold" font-style="normal">23</text>
<rect x="460.2" y="353.1" width="63.5" height="34.7" rx="5" ry="5" fill="#dadada"/>
<line x1="462.2" y1="363.6" x2="477" y2="363.6" stroke="#111" stroke-width="2"/>
<text transform="translate(470.8 377.5) scale(1 1.1)" font-size="13.8" text-anchor="middle" font-weight="bold">S</text>
<line x1="478" y1="367.7" x2="484.4" y2="367.7" stroke="#111" stroke-width="2"/>
<text transform="translate(480.4 381.4) scale(1 1.1)" font-size="13.8" text-anchor="middle" font-weight="bold">O</text>
<line x1="485.4" y1="372.5" x2="499.6" y2="372.5" stroke="#111" stroke-width="2"/>
<text transform="translate(494.1 386.8) scale(1 1.1)" font-size="13.8" text-anchor="middle" font-weight="bold">G</text>
<line x1="501" y1="363.6" x2="515.7" y2="363.6" stroke="#111" stroke-width="2"/>
<text transform="translate(509.5 377.5) scale(1 1.1)" font-size="13.8" text-anchor="middle" font-weight="bold">D</text>
<line x1="516.9" y1="367.5" x2="516.9" y2="369.2" stroke="#000" stroke-width="1.9"/>
<line x1="516.9" y1="373.6" x2="516.9" y2="382.4" stroke="#000" stroke-width="1.9"/>
<line x1="516.9" y1="353.66" x2="516.9" y2="359.87" stroke="#000" stroke-width="1.27"/>
<path d="M512.63 357.62 A5.35 2.29 0 1 0 522.06 358.86" fill="none" stroke="#000" stroke-width="0.94"/>
<path d="M518 357.4 L521.83 355.53 L521.57 358.59 Z" fill="#000"/>
<text x="139.3" y="211.5" font-size="16.6" text-anchor="middle" font-weight="normal">(<tspan font-size="15.4" font-weight="bold">a</tspan>)</text>
<text x="448" y="211.6" font-size="16.6" text-anchor="middle" font-weight="normal">(<tspan font-size="15.4" font-weight="bold">b</tspan>)</text>
<text x="139.1" y="447.8" font-size="16.6" text-anchor="middle" font-weight="normal">(<tspan font-size="15.4" font-weight="bold">c</tspan>)</text>
<text x="448.1" y="447.8" font-size="16.6" text-anchor="middle" font-weight="normal">(<tspan font-size="15.4" font-weight="bold">d</tspan>)</text>
</svg>
</body>
</html>
